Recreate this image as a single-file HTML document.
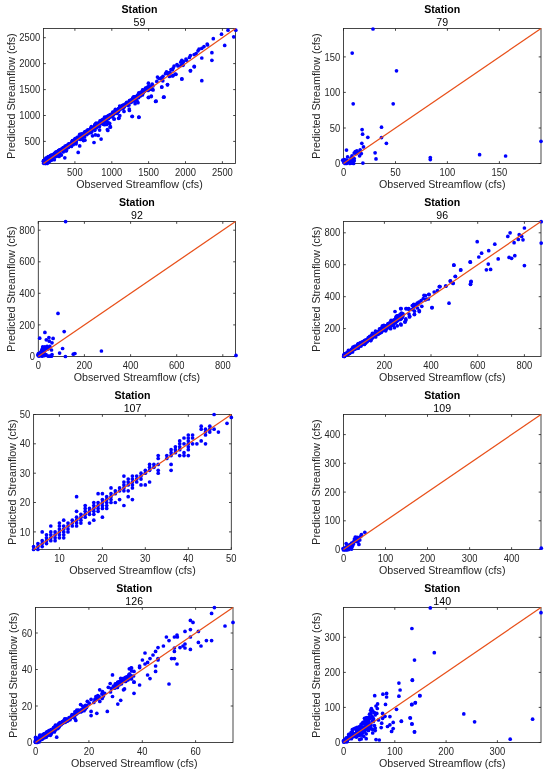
<!DOCTYPE html>
<html lang="en"><head><meta charset="utf-8"><title>Observed vs Predicted Streamflow</title>
<style>
html,body{margin:0;padding:0;background:#fff;}
svg{display:block;font-family:"Liberation Sans",Arial,Helvetica,sans-serif;}
.tk{font-size:10.0px;fill:#262626;}
.lb{font-size:10.7px;fill:#262626;}
.tt{font-size:10.6px;fill:#000;}
.tb{font-size:10.6px;fill:#000;font-weight:bold;}
.ax{stroke:#262626;stroke-width:0.85;fill:none;}
.ln{stroke:#E8501A;stroke-width:1.25;fill:none;}
.d circle{fill:#0000FF;}
</style></head><body>
<svg width="550" height="774" viewBox="0 0 550 774">
<rect x="0" y="0" width="550" height="774" fill="#ffffff"/>
<g>
<text class="tb" x="139.5" y="13.2" text-anchor="middle">Station</text>
<text class="tt" x="139.5" y="26" text-anchor="middle">59</text>
<rect class="ax" x="43.5" y="28.5" width="192" height="135"/>
<path class="ax" d="M74.9 163.5v-2.3M74.9 28.5v2.3M43.5 141.4h2.3M235.5 141.4h-2.3M111.8 163.5v-2.3M111.8 28.5v2.3M43.5 115.5h2.3M235.5 115.5h-2.3M148.6 163.5v-2.3M148.6 28.5v2.3M43.5 89.6h2.3M235.5 89.6h-2.3M185.5 163.5v-2.3M185.5 28.5v2.3M43.5 63.6h2.3M235.5 63.6h-2.3M222.4 163.5v-2.3M222.4 28.5v2.3M43.5 37.7h2.3M235.5 37.7h-2.3"/>
<g class="d">
<circle cx="56" cy="155.6" r="1.85"/><circle cx="44" cy="160.9" r="1.85"/><circle cx="129.5" cy="101.4" r="1.85"/><circle cx="43.6" cy="160.6" r="1.85"/><circle cx="126.8" cy="102.3" r="1.85"/><circle cx="87.8" cy="132.3" r="1.85"/>
<circle cx="117.2" cy="110.3" r="1.85"/><circle cx="104.7" cy="118.3" r="1.85"/><circle cx="148.1" cy="90.4" r="1.85"/><circle cx="47.4" cy="158.1" r="1.85"/><circle cx="100.9" cy="122.3" r="1.85"/><circle cx="44.7" cy="160.6" r="1.85"/>
<circle cx="115.4" cy="109.3" r="1.85"/><circle cx="58.4" cy="150.7" r="1.85"/><circle cx="46.8" cy="158.2" r="1.85"/><circle cx="101.9" cy="120.2" r="1.85"/><circle cx="47.7" cy="159" r="1.85"/><circle cx="73" cy="141.9" r="1.85"/>
<circle cx="119.6" cy="107.5" r="1.85"/><circle cx="56.2" cy="153.6" r="1.85"/><circle cx="85.6" cy="133.6" r="1.85"/><circle cx="63.2" cy="148.3" r="1.85"/><circle cx="107.5" cy="117.4" r="1.85"/><circle cx="100.6" cy="121.8" r="1.85"/>
<circle cx="95.9" cy="124.4" r="1.85"/><circle cx="106.1" cy="117.4" r="1.85"/><circle cx="129.8" cy="101.5" r="1.85"/><circle cx="50.2" cy="158.1" r="1.85"/><circle cx="89.8" cy="129.7" r="1.85"/><circle cx="86.8" cy="132.9" r="1.85"/>
<circle cx="76.5" cy="138.2" r="1.85"/><circle cx="87.1" cy="130.7" r="1.85"/><circle cx="119.8" cy="108.4" r="1.85"/><circle cx="138.7" cy="95.4" r="1.85"/><circle cx="68.3" cy="144.4" r="1.85"/><circle cx="92.9" cy="127.8" r="1.85"/>
<circle cx="124.1" cy="106.7" r="1.85"/><circle cx="44.7" cy="162" r="1.85"/><circle cx="74.6" cy="141.3" r="1.85"/><circle cx="141.7" cy="94.5" r="1.85"/><circle cx="87.4" cy="130.3" r="1.85"/><circle cx="124.2" cy="106.7" r="1.85"/>
<circle cx="45.6" cy="159.1" r="1.85"/><circle cx="139.7" cy="94.8" r="1.85"/><circle cx="51.4" cy="157.2" r="1.85"/><circle cx="96.6" cy="124.3" r="1.85"/><circle cx="128.1" cy="103.1" r="1.85"/><circle cx="110.2" cy="114.5" r="1.85"/>
<circle cx="69" cy="144.6" r="1.85"/><circle cx="44.8" cy="163.3" r="1.85"/><circle cx="149.5" cy="89.5" r="1.85"/><circle cx="58.7" cy="152" r="1.85"/><circle cx="65.6" cy="147.9" r="1.85"/><circle cx="116.2" cy="111.1" r="1.85"/>
<circle cx="126.4" cy="104" r="1.85"/><circle cx="44.2" cy="162.5" r="1.85"/><circle cx="49.5" cy="157.5" r="1.85"/><circle cx="50.4" cy="156.9" r="1.85"/><circle cx="47.6" cy="159.9" r="1.85"/><circle cx="105.6" cy="118.8" r="1.85"/>
<circle cx="96.3" cy="124.3" r="1.85"/><circle cx="115.6" cy="111.2" r="1.85"/><circle cx="57.4" cy="152" r="1.85"/><circle cx="112.7" cy="112.2" r="1.85"/><circle cx="93.1" cy="128.2" r="1.85"/><circle cx="82.9" cy="135.7" r="1.85"/>
<circle cx="43.6" cy="161.4" r="1.85"/><circle cx="54.4" cy="154.6" r="1.85"/><circle cx="76.5" cy="139.5" r="1.85"/><circle cx="74.1" cy="140.3" r="1.85"/><circle cx="119.7" cy="106" r="1.85"/><circle cx="129.8" cy="102" r="1.85"/>
<circle cx="115.4" cy="110.3" r="1.85"/><circle cx="102.2" cy="120.8" r="1.85"/><circle cx="133.8" cy="100.8" r="1.85"/><circle cx="59.2" cy="151.3" r="1.85"/><circle cx="43.7" cy="161.4" r="1.85"/><circle cx="67" cy="145.8" r="1.85"/>
<circle cx="47.8" cy="158.6" r="1.85"/><circle cx="51.4" cy="155.8" r="1.85"/><circle cx="134.8" cy="100.2" r="1.85"/><circle cx="141.2" cy="93.9" r="1.85"/><circle cx="57" cy="152.9" r="1.85"/><circle cx="51.2" cy="155.7" r="1.85"/>
<circle cx="59.5" cy="150.2" r="1.85"/><circle cx="57.9" cy="152.3" r="1.85"/><circle cx="95.9" cy="123.3" r="1.85"/><circle cx="130.5" cy="101.8" r="1.85"/><circle cx="48.5" cy="158.8" r="1.85"/><circle cx="102.1" cy="120.3" r="1.85"/>
<circle cx="66.9" cy="146.5" r="1.85"/><circle cx="129.6" cy="101" r="1.85"/><circle cx="137.2" cy="97.5" r="1.85"/><circle cx="45.1" cy="162.7" r="1.85"/><circle cx="52" cy="156.3" r="1.85"/><circle cx="46.6" cy="161.5" r="1.85"/>
<circle cx="90.9" cy="129.1" r="1.85"/><circle cx="130.6" cy="100.8" r="1.85"/><circle cx="84.5" cy="132.2" r="1.85"/><circle cx="77.5" cy="138.2" r="1.85"/><circle cx="80.5" cy="138.1" r="1.85"/><circle cx="122.3" cy="105.8" r="1.85"/>
<circle cx="111.4" cy="114.3" r="1.85"/><circle cx="131.2" cy="100.8" r="1.85"/><circle cx="81.6" cy="133.9" r="1.85"/><circle cx="65.9" cy="146.3" r="1.85"/><circle cx="80.9" cy="134.7" r="1.85"/><circle cx="44.1" cy="160.6" r="1.85"/>
<circle cx="43.7" cy="163.3" r="1.85"/><circle cx="118.7" cy="108.8" r="1.85"/><circle cx="130.1" cy="101.3" r="1.85"/><circle cx="74.7" cy="140.2" r="1.85"/><circle cx="75.1" cy="138.6" r="1.85"/><circle cx="88.1" cy="130.2" r="1.85"/>
<circle cx="137.1" cy="96.7" r="1.85"/><circle cx="75" cy="140.6" r="1.85"/><circle cx="102.3" cy="122" r="1.85"/><circle cx="67.6" cy="145.2" r="1.85"/><circle cx="50.8" cy="156.5" r="1.85"/><circle cx="72.3" cy="143.6" r="1.85"/>
<circle cx="79.7" cy="134.3" r="1.85"/><circle cx="138" cy="95.7" r="1.85"/><circle cx="47" cy="161.7" r="1.85"/><circle cx="72" cy="141.7" r="1.85"/><circle cx="143.3" cy="92.2" r="1.85"/><circle cx="86.3" cy="132.1" r="1.85"/>
<circle cx="132.1" cy="100.2" r="1.85"/><circle cx="69.6" cy="144.5" r="1.85"/><circle cx="99.8" cy="123.5" r="1.85"/><circle cx="55.9" cy="153.6" r="1.85"/><circle cx="58.7" cy="150.6" r="1.85"/><circle cx="137.3" cy="95.8" r="1.85"/>
<circle cx="121.6" cy="106.8" r="1.85"/><circle cx="138.1" cy="94.6" r="1.85"/><circle cx="84.6" cy="134.4" r="1.85"/><circle cx="141" cy="92" r="1.85"/><circle cx="54.3" cy="154.7" r="1.85"/><circle cx="147.7" cy="88.7" r="1.85"/>
<circle cx="46.2" cy="159.9" r="1.85"/><circle cx="100.4" cy="122.9" r="1.85"/><circle cx="55.1" cy="155.2" r="1.85"/><circle cx="54.3" cy="155.7" r="1.85"/><circle cx="45" cy="159.5" r="1.85"/><circle cx="53.4" cy="154.3" r="1.85"/>
<circle cx="61.3" cy="149.9" r="1.85"/><circle cx="59.3" cy="150.4" r="1.85"/><circle cx="59.2" cy="150.9" r="1.85"/><circle cx="63.2" cy="149.5" r="1.85"/><circle cx="135.3" cy="96.5" r="1.85"/><circle cx="52.2" cy="155.7" r="1.85"/>
<circle cx="81.3" cy="134.9" r="1.85"/><circle cx="93.8" cy="128.1" r="1.85"/><circle cx="134.8" cy="99.5" r="1.85"/><circle cx="58.7" cy="153.1" r="1.85"/><circle cx="122.2" cy="105.7" r="1.85"/><circle cx="119.1" cy="109.3" r="1.85"/>
<circle cx="146.7" cy="90.2" r="1.85"/><circle cx="43.6" cy="160.9" r="1.85"/><circle cx="72.4" cy="140.9" r="1.85"/><circle cx="140.2" cy="93.9" r="1.85"/><circle cx="69.7" cy="144.1" r="1.85"/><circle cx="80.2" cy="135.8" r="1.85"/>
<circle cx="50.1" cy="157.3" r="1.85"/><circle cx="90.3" cy="129.5" r="1.85"/><circle cx="96.9" cy="127.1" r="1.85"/><circle cx="71.8" cy="142.5" r="1.85"/><circle cx="92.5" cy="128" r="1.85"/><circle cx="84.3" cy="134" r="1.85"/>
<circle cx="142.9" cy="93" r="1.85"/><circle cx="47.7" cy="159.6" r="1.85"/><circle cx="57.9" cy="152.1" r="1.85"/><circle cx="120.1" cy="108.4" r="1.85"/><circle cx="45.9" cy="158" r="1.85"/><circle cx="82.2" cy="135" r="1.85"/>
<circle cx="152.4" cy="85" r="1.85"/><circle cx="57.3" cy="152.3" r="1.85"/><circle cx="116" cy="110.4" r="1.85"/><circle cx="152.9" cy="85.9" r="1.85"/><circle cx="142.4" cy="95" r="1.85"/><circle cx="50.1" cy="157.3" r="1.85"/>
<circle cx="61.8" cy="149.1" r="1.85"/><circle cx="117.8" cy="111.1" r="1.85"/><circle cx="114.8" cy="112.6" r="1.85"/><circle cx="83.4" cy="135" r="1.85"/><circle cx="72.6" cy="140.6" r="1.85"/><circle cx="56" cy="153.4" r="1.85"/>
<circle cx="76.3" cy="140" r="1.85"/><circle cx="131.1" cy="102.3" r="1.85"/><circle cx="46.3" cy="160.7" r="1.85"/><circle cx="94.4" cy="126.8" r="1.85"/><circle cx="69.3" cy="144.4" r="1.85"/><circle cx="52.4" cy="156.5" r="1.85"/>
<circle cx="103.3" cy="119.1" r="1.85"/><circle cx="56.1" cy="155.1" r="1.85"/><circle cx="132.6" cy="98.6" r="1.85"/><circle cx="138.6" cy="95.8" r="1.85"/><circle cx="134.4" cy="96.8" r="1.85"/><circle cx="50.3" cy="157.7" r="1.85"/>
<circle cx="58.6" cy="152.6" r="1.85"/><circle cx="140.8" cy="94.8" r="1.85"/><circle cx="143.1" cy="90.1" r="1.85"/><circle cx="84.8" cy="133.6" r="1.85"/><circle cx="108.4" cy="116.9" r="1.85"/><circle cx="129.9" cy="100.3" r="1.85"/>
<circle cx="81.1" cy="136.2" r="1.85"/><circle cx="63.1" cy="149.4" r="1.85"/><circle cx="67.3" cy="146.1" r="1.85"/><circle cx="147" cy="87.6" r="1.85"/><circle cx="56.2" cy="155" r="1.85"/><circle cx="81.8" cy="135" r="1.85"/>
<circle cx="55.8" cy="153.6" r="1.85"/><circle cx="58.2" cy="151.8" r="1.85"/><circle cx="47.2" cy="158.9" r="1.85"/><circle cx="105" cy="119.2" r="1.85"/><circle cx="115.6" cy="112.2" r="1.85"/><circle cx="127.2" cy="102.9" r="1.85"/>
<circle cx="54.7" cy="153.3" r="1.85"/><circle cx="75.7" cy="139.2" r="1.85"/><circle cx="100" cy="122.5" r="1.85"/><circle cx="94.8" cy="124.9" r="1.85"/><circle cx="48.2" cy="156.5" r="1.85"/><circle cx="59.5" cy="150.3" r="1.85"/>
<circle cx="119.9" cy="107.2" r="1.85"/><circle cx="68.6" cy="144.9" r="1.85"/><circle cx="109.4" cy="117.2" r="1.85"/><circle cx="50.9" cy="157.8" r="1.85"/><circle cx="46.5" cy="161.5" r="1.85"/><circle cx="66.5" cy="146.2" r="1.85"/>
<circle cx="71.1" cy="143.3" r="1.85"/><circle cx="141" cy="92.5" r="1.85"/><circle cx="126.6" cy="102.8" r="1.85"/><circle cx="94.3" cy="128.4" r="1.85"/><circle cx="139" cy="94.8" r="1.85"/><circle cx="60.5" cy="149.5" r="1.85"/>
<circle cx="54.3" cy="155.8" r="1.85"/><circle cx="63" cy="148" r="1.85"/><circle cx="114.8" cy="113.6" r="1.85"/><circle cx="119.3" cy="108.3" r="1.85"/><circle cx="102.6" cy="120" r="1.85"/><circle cx="136.1" cy="98.4" r="1.85"/>
<circle cx="94.9" cy="124.9" r="1.85"/><circle cx="123.2" cy="105.2" r="1.85"/><circle cx="90.8" cy="128" r="1.85"/><circle cx="133.8" cy="98.7" r="1.85"/><circle cx="48.4" cy="159.7" r="1.85"/><circle cx="100.1" cy="123.4" r="1.85"/>
<circle cx="136" cy="97.9" r="1.85"/><circle cx="45.2" cy="160" r="1.85"/><circle cx="130.8" cy="102" r="1.85"/><circle cx="117.5" cy="110.6" r="1.85"/><circle cx="51.6" cy="156.5" r="1.85"/><circle cx="46.1" cy="162" r="1.85"/>
<circle cx="95.1" cy="125" r="1.85"/><circle cx="136.1" cy="97.7" r="1.85"/><circle cx="133.4" cy="99.4" r="1.85"/><circle cx="105" cy="119" r="1.85"/><circle cx="106.2" cy="117.7" r="1.85"/><circle cx="63.7" cy="148.6" r="1.85"/>
<circle cx="70.2" cy="143.5" r="1.85"/><circle cx="67.1" cy="145.6" r="1.85"/><circle cx="146.9" cy="89.3" r="1.85"/><circle cx="105.9" cy="118.2" r="1.85"/><circle cx="95.2" cy="125.5" r="1.85"/><circle cx="142.9" cy="93" r="1.85"/>
<circle cx="98" cy="123.1" r="1.85"/><circle cx="61.6" cy="150.1" r="1.85"/><circle cx="118.4" cy="108.8" r="1.85"/><circle cx="133.5" cy="99.3" r="1.85"/><circle cx="56" cy="152.7" r="1.85"/><circle cx="106.2" cy="117.8" r="1.85"/>
<circle cx="149.1" cy="86.8" r="1.85"/><circle cx="144.5" cy="91" r="1.85"/><circle cx="100.7" cy="121.2" r="1.85"/><circle cx="63" cy="148" r="1.85"/><circle cx="65" cy="147.6" r="1.85"/><circle cx="134.3" cy="98.4" r="1.85"/>
<circle cx="85.3" cy="131.5" r="1.85"/><circle cx="65.1" cy="146.2" r="1.85"/><circle cx="85" cy="134.4" r="1.85"/><circle cx="88.7" cy="132.2" r="1.85"/><circle cx="133.6" cy="96.8" r="1.85"/><circle cx="55" cy="153.3" r="1.85"/>
<circle cx="147.4" cy="87.7" r="1.85"/><circle cx="74.7" cy="141.1" r="1.85"/><circle cx="101.6" cy="122.8" r="1.85"/><circle cx="60.1" cy="150.7" r="1.85"/><circle cx="119.1" cy="109.4" r="1.85"/><circle cx="68.9" cy="143.8" r="1.85"/>
<circle cx="87.8" cy="130.2" r="1.85"/><circle cx="67.1" cy="146.5" r="1.85"/><circle cx="148" cy="86.8" r="1.85"/><circle cx="45" cy="160.6" r="1.85"/><circle cx="84.8" cy="133.5" r="1.85"/><circle cx="63.9" cy="148.6" r="1.85"/>
<circle cx="94.7" cy="126" r="1.85"/><circle cx="52.7" cy="156.8" r="1.85"/><circle cx="63.4" cy="148.2" r="1.85"/><circle cx="91.4" cy="126.7" r="1.85"/><circle cx="91.7" cy="129" r="1.85"/><circle cx="48.6" cy="160" r="1.85"/>
<circle cx="77.7" cy="137" r="1.85"/><circle cx="151.5" cy="86.8" r="1.85"/><circle cx="103.9" cy="120.4" r="1.85"/><circle cx="145.9" cy="90.2" r="1.85"/><circle cx="101.3" cy="123" r="1.85"/><circle cx="44.3" cy="162.8" r="1.85"/>
<circle cx="58.4" cy="151.8" r="1.85"/><circle cx="54.5" cy="153.3" r="1.85"/><circle cx="144.7" cy="91" r="1.85"/><circle cx="140.3" cy="95.9" r="1.85"/><circle cx="52.9" cy="154.9" r="1.85"/><circle cx="48.3" cy="159.1" r="1.85"/>
<circle cx="110.7" cy="116.5" r="1.85"/><circle cx="55.7" cy="153.7" r="1.85"/><circle cx="110" cy="115.1" r="1.85"/><circle cx="100.8" cy="123.4" r="1.85"/><circle cx="100.4" cy="122.1" r="1.85"/><circle cx="73.2" cy="141.2" r="1.85"/>
<circle cx="118.7" cy="109.2" r="1.85"/><circle cx="61.8" cy="149.2" r="1.85"/><circle cx="64.8" cy="148.8" r="1.85"/><circle cx="68.1" cy="147.5" r="1.85"/><circle cx="104.6" cy="117.1" r="1.85"/><circle cx="144.6" cy="90.4" r="1.85"/>
<circle cx="73" cy="141.8" r="1.85"/><circle cx="70.3" cy="143.5" r="1.85"/><circle cx="63.6" cy="147.6" r="1.85"/><circle cx="70.1" cy="144.5" r="1.85"/><circle cx="97.2" cy="126" r="1.85"/><circle cx="81" cy="135.6" r="1.85"/>
<circle cx="146.1" cy="89.9" r="1.85"/><circle cx="138.6" cy="97.6" r="1.85"/><circle cx="140.6" cy="93.9" r="1.85"/><circle cx="96.2" cy="123.4" r="1.85"/><circle cx="123.8" cy="105.8" r="1.85"/><circle cx="52.5" cy="155.6" r="1.85"/>
<circle cx="44.8" cy="162.1" r="1.85"/><circle cx="117.5" cy="110.2" r="1.85"/><circle cx="54.3" cy="154.8" r="1.85"/><circle cx="108" cy="117.6" r="1.85"/><circle cx="129.4" cy="100.8" r="1.85"/><circle cx="45.5" cy="162.2" r="1.85"/>
<circle cx="75.8" cy="140.7" r="1.85"/><circle cx="90" cy="130.2" r="1.85"/><circle cx="84.1" cy="133" r="1.85"/><circle cx="132.9" cy="97.9" r="1.85"/><circle cx="50.7" cy="155.6" r="1.85"/><circle cx="81.4" cy="135.8" r="1.85"/>
<circle cx="62.1" cy="150.4" r="1.85"/><circle cx="91.3" cy="127.8" r="1.85"/><circle cx="69.5" cy="145.9" r="1.85"/><circle cx="56.1" cy="151.8" r="1.85"/><circle cx="130.2" cy="101.5" r="1.85"/><circle cx="107" cy="116.7" r="1.85"/>
<circle cx="125.1" cy="104.1" r="1.85"/><circle cx="91.4" cy="129.5" r="1.85"/><circle cx="43.8" cy="161.4" r="1.85"/><circle cx="135" cy="98.5" r="1.85"/><circle cx="100" cy="120.9" r="1.85"/><circle cx="50.5" cy="155.7" r="1.85"/>
<circle cx="51.6" cy="155" r="1.85"/><circle cx="120.5" cy="107.5" r="1.85"/><circle cx="126.8" cy="104.1" r="1.85"/><circle cx="94.9" cy="126.9" r="1.85"/><circle cx="138.7" cy="96.1" r="1.85"/><circle cx="74.7" cy="139.9" r="1.85"/>
<circle cx="123.7" cy="105.3" r="1.85"/><circle cx="113.9" cy="112.1" r="1.85"/><circle cx="106.7" cy="117.1" r="1.85"/><circle cx="74.2" cy="140.3" r="1.85"/><circle cx="136.6" cy="97.6" r="1.85"/><circle cx="49.1" cy="159" r="1.85"/>
<circle cx="47.1" cy="160.4" r="1.85"/><circle cx="63.3" cy="149.5" r="1.85"/><circle cx="80.3" cy="135.4" r="1.85"/><circle cx="45.2" cy="162.4" r="1.85"/><circle cx="107.7" cy="118.5" r="1.85"/><circle cx="73.4" cy="141" r="1.85"/>
<circle cx="132.2" cy="100.9" r="1.85"/><circle cx="133.4" cy="98.7" r="1.85"/><circle cx="43.5" cy="161.8" r="1.85"/><circle cx="121.9" cy="107.6" r="1.85"/><circle cx="79.9" cy="136.6" r="1.85"/><circle cx="138.6" cy="94.7" r="1.85"/>
<circle cx="131.4" cy="99.9" r="1.85"/><circle cx="45.7" cy="162" r="1.85"/><circle cx="44.8" cy="161.7" r="1.85"/><circle cx="97.1" cy="123.9" r="1.85"/><circle cx="45.5" cy="160.6" r="1.85"/><circle cx="108.3" cy="115.6" r="1.85"/>
<circle cx="162.4" cy="78.3" r="1.85"/><circle cx="180.8" cy="65.5" r="1.85"/><circle cx="161.3" cy="78.9" r="1.85"/><circle cx="170.1" cy="72.9" r="1.85"/><circle cx="168.5" cy="74.3" r="1.85"/><circle cx="172.4" cy="69.8" r="1.85"/>
<circle cx="162.8" cy="80.8" r="1.85"/><circle cx="182.8" cy="63.9" r="1.85"/><circle cx="183" cy="65.3" r="1.85"/><circle cx="156.8" cy="81.4" r="1.85"/><circle cx="104.9" cy="121.1" r="1.85"/><circle cx="66" cy="147.3" r="1.85"/>
<circle cx="54" cy="157.2" r="1.85"/><circle cx="51.3" cy="159.8" r="1.85"/><circle cx="99.4" cy="126.6" r="1.85"/><circle cx="118.7" cy="110.4" r="1.85"/><circle cx="111.9" cy="116.6" r="1.85"/><circle cx="88.5" cy="132" r="1.85"/>
<circle cx="117.2" cy="113.5" r="1.85"/><circle cx="53" cy="158.3" r="1.85"/><circle cx="45.5" cy="163.3" r="1.85"/><circle cx="45.6" cy="163.3" r="1.85"/><circle cx="81.9" cy="138.9" r="1.85"/><circle cx="117.4" cy="111.8" r="1.85"/>
<circle cx="96.2" cy="127.9" r="1.85"/><circle cx="94.8" cy="130.3" r="1.85"/><circle cx="63" cy="149.4" r="1.85"/><circle cx="51.1" cy="159" r="1.85"/><circle cx="112.2" cy="116.5" r="1.85"/><circle cx="89.3" cy="131.9" r="1.85"/>
<circle cx="47.1" cy="163.3" r="1.85"/><circle cx="75.7" cy="142.3" r="1.85"/><circle cx="82" cy="137.3" r="1.85"/><circle cx="115.6" cy="112.5" r="1.85"/><circle cx="67.7" cy="145.9" r="1.85"/><circle cx="98.4" cy="125.8" r="1.85"/>
<circle cx="113" cy="115.2" r="1.85"/><circle cx="80.6" cy="139.4" r="1.85"/><circle cx="52.7" cy="159.1" r="1.85"/><circle cx="103.8" cy="119.6" r="1.85"/><circle cx="106.7" cy="121" r="1.85"/><circle cx="73.1" cy="144.7" r="1.85"/>
<circle cx="71.4" cy="146.5" r="1.85"/><circle cx="123.2" cy="107.4" r="1.85"/><circle cx="56.1" cy="156.4" r="1.85"/><circle cx="90.7" cy="132.6" r="1.85"/><circle cx="61.4" cy="155.1" r="1.85"/><circle cx="73.4" cy="144" r="1.85"/>
<circle cx="52.3" cy="159.5" r="1.85"/><circle cx="46.1" cy="161.5" r="1.85"/><circle cx="51.1" cy="160.2" r="1.85"/><circle cx="118.5" cy="111.5" r="1.85"/><circle cx="71.3" cy="144" r="1.85"/><circle cx="112.9" cy="114.9" r="1.85"/>
<circle cx="59.6" cy="154.1" r="1.85"/><circle cx="84.4" cy="133.2" r="1.85"/><circle cx="87.7" cy="133.2" r="1.85"/><circle cx="63.3" cy="150.2" r="1.85"/><circle cx="90.9" cy="131.9" r="1.85"/><circle cx="76.2" cy="141.8" r="1.85"/>
<circle cx="58.3" cy="154.1" r="1.85"/><circle cx="72.7" cy="143.9" r="1.85"/><circle cx="76.1" cy="143.8" r="1.85"/><circle cx="81.4" cy="138.4" r="1.85"/><circle cx="65.3" cy="149.1" r="1.85"/><circle cx="88.7" cy="133.1" r="1.85"/>
<circle cx="129" cy="105" r="1.85"/><circle cx="91.7" cy="131.9" r="1.85"/><circle cx="127.8" cy="105.4" r="1.85"/><circle cx="91.6" cy="131" r="1.85"/><circle cx="104.5" cy="124.7" r="1.85"/><circle cx="58" cy="151.9" r="1.85"/>
<circle cx="72.5" cy="143.4" r="1.85"/><circle cx="48.6" cy="161.1" r="1.85"/><circle cx="111.5" cy="116" r="1.85"/><circle cx="58.2" cy="154.2" r="1.85"/><circle cx="75.1" cy="143.1" r="1.85"/><circle cx="84.6" cy="137" r="1.85"/>
<circle cx="58.8" cy="155.6" r="1.85"/><circle cx="56.2" cy="155.6" r="1.85"/><circle cx="65.9" cy="150.8" r="1.85"/><circle cx="121" cy="109" r="1.85"/><circle cx="86.9" cy="134.6" r="1.85"/><circle cx="68.4" cy="147.3" r="1.85"/>
<circle cx="103" cy="124.2" r="1.85"/><circle cx="52.4" cy="159.3" r="1.85"/><circle cx="105.1" cy="121.7" r="1.85"/><circle cx="57.7" cy="155.7" r="1.85"/><circle cx="81.7" cy="138.2" r="1.85"/><circle cx="108.5" cy="118.6" r="1.85"/>
<circle cx="53.7" cy="158.1" r="1.85"/><circle cx="79.2" cy="139.1" r="1.85"/><circle cx="66.6" cy="150.1" r="1.85"/><circle cx="47.1" cy="163.3" r="1.85"/><circle cx="49.8" cy="161.1" r="1.85"/><circle cx="70.3" cy="145.9" r="1.85"/>
<circle cx="57.7" cy="154.5" r="1.85"/><circle cx="123" cy="108.5" r="1.85"/><circle cx="105.5" cy="119.9" r="1.85"/><circle cx="80.6" cy="138.8" r="1.85"/><circle cx="48.7" cy="162.5" r="1.85"/><circle cx="58.9" cy="153.2" r="1.85"/>
<circle cx="80.1" cy="138.8" r="1.85"/><circle cx="52" cy="158.2" r="1.85"/><circle cx="63.2" cy="152" r="1.85"/><circle cx="66.2" cy="150.7" r="1.85"/><circle cx="60" cy="153.5" r="1.85"/><circle cx="106.7" cy="118.5" r="1.85"/>
<circle cx="110" cy="116.6" r="1.85"/><circle cx="105.2" cy="119.9" r="1.85"/><circle cx="138.9" cy="117.3" r="1.85"/><circle cx="132.2" cy="116.3" r="1.85"/><circle cx="114.1" cy="119" r="1.85"/><circle cx="118.7" cy="118.3" r="1.85"/>
<circle cx="124" cy="111.4" r="1.85"/><circle cx="129.3" cy="109.1" r="1.85"/><circle cx="106.8" cy="124.4" r="1.85"/><circle cx="109.7" cy="123.4" r="1.85"/><circle cx="110.3" cy="127.2" r="1.85"/><circle cx="107.8" cy="130.5" r="1.85"/>
<circle cx="99.6" cy="130.1" r="1.85"/><circle cx="92.5" cy="135.8" r="1.85"/><circle cx="95.4" cy="134.9" r="1.85"/><circle cx="98.2" cy="135.4" r="1.85"/><circle cx="101.1" cy="139.1" r="1.85"/><circle cx="94" cy="142.5" r="1.85"/>
<circle cx="83.5" cy="140.6" r="1.85"/><circle cx="84.9" cy="140.2" r="1.85"/><circle cx="79.7" cy="145.9" r="1.85"/><circle cx="78.2" cy="152.4" r="1.85"/><circle cx="64.8" cy="157.8" r="1.85"/><circle cx="59.1" cy="156.4" r="1.85"/>
<circle cx="54.3" cy="159.7" r="1.85"/><circle cx="235.8" cy="30.2" r="1.85"/><circle cx="228" cy="30.2" r="1.85"/><circle cx="233.7" cy="36.8" r="1.85"/><circle cx="221.5" cy="34.2" r="1.85"/><circle cx="224.7" cy="45.4" r="1.85"/>
<circle cx="213.3" cy="38.7" r="1.85"/><circle cx="207.2" cy="44.1" r="1.85"/><circle cx="207.6" cy="45" r="1.85"/><circle cx="211.9" cy="52.7" r="1.85"/><circle cx="211.9" cy="60.3" r="1.85"/><circle cx="201.8" cy="48.3" r="1.85"/>
<circle cx="199" cy="49.2" r="1.85"/><circle cx="201.8" cy="58" r="1.85"/><circle cx="201.8" cy="80.7" r="1.85"/><circle cx="194.2" cy="66.4" r="1.85"/><circle cx="190.4" cy="70.8" r="1.85"/><circle cx="196.1" cy="53.6" r="1.85"/>
<circle cx="194.2" cy="54.6" r="1.85"/><circle cx="190.4" cy="55.5" r="1.85"/><circle cx="189.4" cy="57.5" r="1.85"/><circle cx="186.5" cy="60.3" r="1.85"/><circle cx="181.8" cy="60.3" r="1.85"/><circle cx="180.8" cy="62.2" r="1.85"/>
<circle cx="181.8" cy="79" r="1.85"/><circle cx="176" cy="74.3" r="1.85"/><circle cx="173.2" cy="75.6" r="1.85"/><circle cx="169.4" cy="76.5" r="1.85"/><circle cx="167.5" cy="84.8" r="1.85"/><circle cx="161.7" cy="87" r="1.85"/>
<circle cx="163.6" cy="97.2" r="1.85"/><circle cx="153.1" cy="89.9" r="1.85"/><circle cx="151.2" cy="96.6" r="1.85"/><circle cx="148.4" cy="97.5" r="1.85"/><circle cx="155.6" cy="101.4" r="1.85"/><circle cx="157.5" cy="77.1" r="1.85"/>
<circle cx="161.7" cy="77.5" r="1.85"/><circle cx="166.5" cy="71.8" r="1.85"/><circle cx="165.5" cy="73.7" r="1.85"/><circle cx="169.4" cy="72.7" r="1.85"/><circle cx="174.1" cy="66" r="1.85"/><circle cx="173.2" cy="68" r="1.85"/>
<circle cx="178" cy="66" r="1.85"/><circle cx="148.4" cy="83.2" r="1.85"/><circle cx="149.3" cy="86.1" r="1.85"/><circle cx="152.2" cy="84.2" r="1.85"/><circle cx="145.5" cy="88" r="1.85"/><circle cx="142.6" cy="89.9" r="1.85"/>
<circle cx="138.8" cy="92.8" r="1.85"/><circle cx="194.3" cy="66.8" r="1.85"/><circle cx="190.5" cy="70.7" r="1.85"/><circle cx="181.9" cy="78.9" r="1.85"/><circle cx="175.2" cy="74.1" r="1.85"/><circle cx="172.3" cy="76" r="1.85"/>
<circle cx="167.5" cy="84.6" r="1.85"/><circle cx="161.8" cy="87.1" r="1.85"/><circle cx="164.1" cy="97" r="1.85"/><circle cx="156.1" cy="101.2" r="1.85"/><circle cx="151.3" cy="96" r="1.85"/><circle cx="148.5" cy="97.4" r="1.85"/>
<circle cx="152.3" cy="89.4" r="1.85"/><circle cx="138.9" cy="117" r="1.85"/><circle cx="132.2" cy="116.5" r="1.85"/><circle cx="137" cy="100.8" r="1.85"/><circle cx="138" cy="102.7" r="1.85"/><circle cx="135.1" cy="103.7" r="1.85"/>
<circle cx="129.4" cy="110.4" r="1.85"/><circle cx="119.8" cy="115.7" r="1.85"/><circle cx="118.9" cy="118" r="1.85"/><circle cx="114.1" cy="119" r="1.85"/><circle cx="108.4" cy="122.8" r="1.85"/><circle cx="110.3" cy="126.6" r="1.85"/>
<circle cx="107.4" cy="129.5" r="1.85"/><circle cx="204" cy="46.6" r="1.85"/><circle cx="198" cy="50.8" r="1.85"/><circle cx="186" cy="59" r="1.85"/><circle cx="183.5" cy="61.5" r="1.85"/><circle cx="177" cy="64.5" r="1.85"/>
<circle cx="171" cy="69.5" r="1.85"/><circle cx="163" cy="76.3" r="1.85"/><circle cx="159" cy="78.5" r="1.85"/>
</g>
<path class="ln" d="M43.5 163.5L235.5 28.5"/>
<text class="tk" transform="translate(74.9 175.9) scale(0.94 1)" text-anchor="middle">500</text>
<text class="tk" transform="translate(40.2 145) scale(0.94 1)" text-anchor="end">500</text>
<text class="tk" transform="translate(111.8 175.9) scale(0.94 1)" text-anchor="middle">1000</text>
<text class="tk" transform="translate(40.2 119.1) scale(0.94 1)" text-anchor="end">1000</text>
<text class="tk" transform="translate(148.6 175.9) scale(0.94 1)" text-anchor="middle">1500</text>
<text class="tk" transform="translate(40.2 93.2) scale(0.94 1)" text-anchor="end">1500</text>
<text class="tk" transform="translate(185.5 175.9) scale(0.94 1)" text-anchor="middle">2000</text>
<text class="tk" transform="translate(40.2 67.2) scale(0.94 1)" text-anchor="end">2000</text>
<text class="tk" transform="translate(222.4 175.9) scale(0.94 1)" text-anchor="middle">2500</text>
<text class="tk" transform="translate(40.2 41.3) scale(0.94 1)" text-anchor="end">2500</text>
<text class="lb" x="139.5" y="188.3" text-anchor="middle">Observed Streamflow (cfs)</text>
<text class="lb" transform="translate(14.8 96) rotate(-90)" text-anchor="middle">Predicted Streamflow (cfs)</text>
</g>
<g>
<text class="tb" x="442.2" y="13.2" text-anchor="middle">Station</text>
<text class="tt" x="442.2" y="26" text-anchor="middle">79</text>
<rect class="ax" x="343.5" y="28.5" width="197.5" height="135"/>
<path class="ax" d="M343.5 163.5v-2.3M343.5 28.5v2.3M343.5 163.5h2.3M541 163.5h-2.3M395.5 163.5v-2.3M395.5 28.5v2.3M343.5 128h2.3M541 128h-2.3M447.4 163.5v-2.3M447.4 28.5v2.3M343.5 92.4h2.3M541 92.4h-2.3M499.4 163.5v-2.3M499.4 28.5v2.3M343.5 56.9h2.3M541 56.9h-2.3"/>
<g class="d">
<circle cx="381.5" cy="127.2" r="1.85"/><circle cx="381.5" cy="137.6" r="1.85"/><circle cx="386.4" cy="143.3" r="1.85"/><circle cx="375.1" cy="152.8" r="1.85"/><circle cx="376" cy="158.9" r="1.85"/><circle cx="367.8" cy="137.3" r="1.85"/>
<circle cx="362.1" cy="129.6" r="1.85"/><circle cx="362.6" cy="134.2" r="1.85"/><circle cx="361.8" cy="143.3" r="1.85"/><circle cx="363.5" cy="146.9" r="1.85"/><circle cx="362.9" cy="163.1" r="1.85"/><circle cx="346.5" cy="150.1" r="1.85"/>
<circle cx="355.3" cy="151.5" r="1.85"/><circle cx="356.9" cy="150.9" r="1.85"/><circle cx="360.2" cy="149.8" r="1.85"/><circle cx="358.5" cy="152" r="1.85"/><circle cx="361.3" cy="153.6" r="1.85"/><circle cx="359.6" cy="155.8" r="1.85"/>
<circle cx="354.2" cy="153.1" r="1.85"/><circle cx="352" cy="155.8" r="1.85"/><circle cx="347.6" cy="156.9" r="1.85"/><circle cx="350.9" cy="158" r="1.85"/><circle cx="354.2" cy="158.5" r="1.85"/><circle cx="354.2" cy="160.7" r="1.85"/>
<circle cx="352" cy="161.3" r="1.85"/><circle cx="349.8" cy="160.7" r="1.85"/><circle cx="346.5" cy="160.2" r="1.85"/><circle cx="344.4" cy="159.6" r="1.85"/><circle cx="342.7" cy="160.2" r="1.85"/><circle cx="343.8" cy="162.4" r="1.85"/>
<circle cx="346.5" cy="163.5" r="1.85"/><circle cx="349.8" cy="163.5" r="1.85"/><circle cx="353.6" cy="163.5" r="1.85"/><circle cx="348.2" cy="161.8" r="1.85"/><circle cx="356.4" cy="153.6" r="1.85"/><circle cx="353.1" cy="159.6" r="1.85"/>
<circle cx="345.5" cy="161.3" r="1.85"/><circle cx="350.9" cy="162.4" r="1.85"/><circle cx="344.9" cy="163.5" r="1.85"/><circle cx="352" cy="163.2" r="1.85"/><circle cx="373" cy="29" r="1.85"/><circle cx="352.2" cy="53.1" r="1.85"/>
<circle cx="396.5" cy="70.8" r="1.85"/><circle cx="353.2" cy="103.8" r="1.85"/><circle cx="393.2" cy="103.8" r="1.85"/><circle cx="430.3" cy="157.6" r="1.85"/><circle cx="430.3" cy="159.6" r="1.85"/><circle cx="479.6" cy="154.7" r="1.85"/>
<circle cx="505.6" cy="156" r="1.85"/><circle cx="541" cy="141.3" r="1.85"/>
</g>
<path class="ln" d="M343.5 163.5L541 28.5"/>
<text class="tk" transform="translate(343.5 175.9) scale(0.94 1)" text-anchor="middle">0</text>
<text class="tk" transform="translate(340.2 167.1) scale(0.94 1)" text-anchor="end">0</text>
<text class="tk" transform="translate(395.5 175.9) scale(0.94 1)" text-anchor="middle">50</text>
<text class="tk" transform="translate(340.2 131.6) scale(0.94 1)" text-anchor="end">50</text>
<text class="tk" transform="translate(447.4 175.9) scale(0.94 1)" text-anchor="middle">100</text>
<text class="tk" transform="translate(340.2 96) scale(0.94 1)" text-anchor="end">100</text>
<text class="tk" transform="translate(499.4 175.9) scale(0.94 1)" text-anchor="middle">150</text>
<text class="tk" transform="translate(340.2 60.5) scale(0.94 1)" text-anchor="end">150</text>
<text class="lb" x="442.2" y="188.3" text-anchor="middle">Observed Streamflow (cfs)</text>
<text class="lb" transform="translate(320 96) rotate(-90)" text-anchor="middle">Predicted Streamflow (cfs)</text>
</g>
<g>
<text class="tb" x="136.9" y="206.2" text-anchor="middle">Station</text>
<text class="tt" x="136.9" y="219" text-anchor="middle">92</text>
<rect class="ax" x="38.3" y="221.5" width="197.2" height="135"/>
<path class="ax" d="M38.3 356.5v-2.3M38.3 221.5v2.3M38.3 356.5h2.3M235.5 356.5h-2.3M84.4 356.5v-2.3M84.4 221.5v2.3M38.3 324.9h2.3M235.5 324.9h-2.3M130.6 356.5v-2.3M130.6 221.5v2.3M38.3 293.3h2.3M235.5 293.3h-2.3M176.7 356.5v-2.3M176.7 221.5v2.3M38.3 261.8h2.3M235.5 261.8h-2.3M222.8 356.5v-2.3M222.8 221.5v2.3M38.3 230.2h2.3M235.5 230.2h-2.3"/>
<g class="d">
<circle cx="58" cy="313.4" r="1.85"/><circle cx="44.9" cy="332.4" r="1.85"/><circle cx="64.2" cy="331.6" r="1.85"/><circle cx="39.7" cy="338.2" r="1.85"/><circle cx="48.9" cy="337.6" r="1.85"/><circle cx="53.1" cy="338.4" r="1.85"/>
<circle cx="46.3" cy="339.8" r="1.85"/><circle cx="49.3" cy="341.2" r="1.85"/><circle cx="52" cy="342.8" r="1.85"/><circle cx="42.7" cy="346.9" r="1.85"/><circle cx="44.9" cy="346.9" r="1.85"/><circle cx="47.1" cy="346.4" r="1.85"/>
<circle cx="49.8" cy="346.4" r="1.85"/><circle cx="42.2" cy="349.1" r="1.85"/><circle cx="44.9" cy="349.1" r="1.85"/><circle cx="47.6" cy="349.1" r="1.85"/><circle cx="51.5" cy="350" r="1.85"/><circle cx="41.6" cy="350.7" r="1.85"/>
<circle cx="44.4" cy="351.3" r="1.85"/><circle cx="40.5" cy="352.4" r="1.85"/><circle cx="43.3" cy="353.5" r="1.85"/><circle cx="39.5" cy="354" r="1.85"/><circle cx="37.8" cy="355.1" r="1.85"/><circle cx="40.5" cy="355.6" r="1.85"/>
<circle cx="44.4" cy="355.6" r="1.85"/><circle cx="48.2" cy="356.2" r="1.85"/><circle cx="52" cy="354.5" r="1.85"/><circle cx="51.5" cy="356.2" r="1.85"/><circle cx="62.6" cy="348.5" r="1.85"/><circle cx="59.6" cy="353.1" r="1.85"/>
<circle cx="65.4" cy="356.5" r="1.85"/><circle cx="73.3" cy="354.2" r="1.85"/><circle cx="74.9" cy="353.5" r="1.85"/><circle cx="38.9" cy="356.2" r="1.85"/><circle cx="42.2" cy="356.2" r="1.85"/><circle cx="46" cy="354.5" r="1.85"/>
<circle cx="49.8" cy="356.2" r="1.85"/><circle cx="38.4" cy="353.5" r="1.85"/><circle cx="46" cy="348" r="1.85"/><circle cx="48.7" cy="348" r="1.85"/><circle cx="43.8" cy="348" r="1.85"/><circle cx="101.4" cy="351" r="1.85"/>
<circle cx="65.6" cy="221.6" r="1.85"/><circle cx="236" cy="355.4" r="1.85"/>
</g>
<path class="ln" d="M38.3 356.5L235.5 221.5"/>
<text class="tk" transform="translate(38.3 368.9) scale(0.94 1)" text-anchor="middle">0</text>
<text class="tk" transform="translate(35 360.1) scale(0.94 1)" text-anchor="end">0</text>
<text class="tk" transform="translate(84.4 368.9) scale(0.94 1)" text-anchor="middle">200</text>
<text class="tk" transform="translate(35 328.5) scale(0.94 1)" text-anchor="end">200</text>
<text class="tk" transform="translate(130.6 368.9) scale(0.94 1)" text-anchor="middle">400</text>
<text class="tk" transform="translate(35 296.9) scale(0.94 1)" text-anchor="end">400</text>
<text class="tk" transform="translate(176.7 368.9) scale(0.94 1)" text-anchor="middle">600</text>
<text class="tk" transform="translate(35 265.4) scale(0.94 1)" text-anchor="end">600</text>
<text class="tk" transform="translate(222.8 368.9) scale(0.94 1)" text-anchor="middle">800</text>
<text class="tk" transform="translate(35 233.8) scale(0.94 1)" text-anchor="end">800</text>
<text class="lb" x="136.9" y="381.3" text-anchor="middle">Observed Streamflow (cfs)</text>
<text class="lb" transform="translate(14.6 289) rotate(-90)" text-anchor="middle">Predicted Streamflow (cfs)</text>
</g>
<g>
<text class="tb" x="442.2" y="206.2" text-anchor="middle">Station</text>
<text class="tt" x="442.2" y="219" text-anchor="middle">96</text>
<rect class="ax" x="343.5" y="221.5" width="197.5" height="135"/>
<path class="ax" d="M384.4 356.5v-2.3M384.4 221.5v2.3M343.5 328.6h2.3M541 328.6h-2.3M431 356.5v-2.3M431 221.5v2.3M343.5 296.7h2.3M541 296.7h-2.3M477.7 356.5v-2.3M477.7 221.5v2.3M343.5 264.7h2.3M541 264.7h-2.3M524.4 356.5v-2.3M524.4 221.5v2.3M343.5 232.8h2.3M541 232.8h-2.3"/>
<g class="d">
<circle cx="362.4" cy="344.1" r="1.85"/><circle cx="353.1" cy="349" r="1.85"/><circle cx="390.5" cy="324.1" r="1.85"/><circle cx="344.2" cy="354.3" r="1.85"/><circle cx="364.6" cy="341.3" r="1.85"/><circle cx="360.6" cy="345.2" r="1.85"/>
<circle cx="357" cy="346.7" r="1.85"/><circle cx="375" cy="334.6" r="1.85"/><circle cx="401.5" cy="314.9" r="1.85"/><circle cx="382.1" cy="329.9" r="1.85"/><circle cx="361" cy="346.1" r="1.85"/><circle cx="389.3" cy="323" r="1.85"/>
<circle cx="371" cy="337.8" r="1.85"/><circle cx="366.4" cy="340.5" r="1.85"/><circle cx="391.1" cy="320.3" r="1.85"/><circle cx="375.7" cy="336.9" r="1.85"/><circle cx="348.4" cy="350.4" r="1.85"/><circle cx="358.5" cy="344.9" r="1.85"/>
<circle cx="391.4" cy="322.6" r="1.85"/><circle cx="389.4" cy="323.7" r="1.85"/><circle cx="352.5" cy="348.4" r="1.85"/><circle cx="345.3" cy="355.4" r="1.85"/><circle cx="393.8" cy="320.2" r="1.85"/><circle cx="379.3" cy="333.3" r="1.85"/>
<circle cx="401.4" cy="314" r="1.85"/><circle cx="375.6" cy="335.4" r="1.85"/><circle cx="353" cy="347" r="1.85"/><circle cx="396.8" cy="320.7" r="1.85"/><circle cx="353.9" cy="348.2" r="1.85"/><circle cx="354.2" cy="348.4" r="1.85"/>
<circle cx="351.4" cy="349.7" r="1.85"/><circle cx="351.1" cy="351.4" r="1.85"/><circle cx="401.5" cy="318.5" r="1.85"/><circle cx="380.1" cy="331.1" r="1.85"/><circle cx="386.9" cy="327.2" r="1.85"/><circle cx="361" cy="342.5" r="1.85"/>
<circle cx="385.1" cy="328.8" r="1.85"/><circle cx="353.6" cy="349.5" r="1.85"/><circle cx="351.7" cy="351.2" r="1.85"/><circle cx="387.5" cy="327" r="1.85"/><circle cx="381.2" cy="332.3" r="1.85"/><circle cx="358" cy="347.1" r="1.85"/>
<circle cx="402.3" cy="316.2" r="1.85"/><circle cx="366.8" cy="341.8" r="1.85"/><circle cx="358.7" cy="346.3" r="1.85"/><circle cx="391.3" cy="321.2" r="1.85"/><circle cx="345.1" cy="353.6" r="1.85"/><circle cx="398.2" cy="318.7" r="1.85"/>
<circle cx="360.5" cy="345" r="1.85"/><circle cx="365.5" cy="341.6" r="1.85"/><circle cx="381.3" cy="329.8" r="1.85"/><circle cx="369.6" cy="339.8" r="1.85"/><circle cx="372.8" cy="334.9" r="1.85"/><circle cx="347" cy="352.7" r="1.85"/>
<circle cx="350" cy="351.7" r="1.85"/><circle cx="356.4" cy="348.6" r="1.85"/><circle cx="357.9" cy="345.8" r="1.85"/><circle cx="387" cy="327.1" r="1.85"/><circle cx="396.9" cy="318" r="1.85"/><circle cx="348.9" cy="353" r="1.85"/>
<circle cx="370.8" cy="340.6" r="1.85"/><circle cx="401.5" cy="313" r="1.85"/><circle cx="367.4" cy="340.6" r="1.85"/><circle cx="389.9" cy="325.7" r="1.85"/><circle cx="351.5" cy="350.5" r="1.85"/><circle cx="360.2" cy="344.1" r="1.85"/>
<circle cx="369.9" cy="337.7" r="1.85"/><circle cx="349.4" cy="353.4" r="1.85"/><circle cx="371.6" cy="335.6" r="1.85"/><circle cx="377.5" cy="332.1" r="1.85"/><circle cx="372.2" cy="338.2" r="1.85"/><circle cx="357.9" cy="347" r="1.85"/>
<circle cx="396.6" cy="318.6" r="1.85"/><circle cx="353.6" cy="348.9" r="1.85"/><circle cx="350.4" cy="351.3" r="1.85"/><circle cx="358.5" cy="347" r="1.85"/><circle cx="349.9" cy="351" r="1.85"/><circle cx="357.4" cy="347.3" r="1.85"/>
<circle cx="362.9" cy="343.2" r="1.85"/><circle cx="354.6" cy="346.3" r="1.85"/><circle cx="398.7" cy="318.9" r="1.85"/><circle cx="345.7" cy="353.9" r="1.85"/><circle cx="343.8" cy="356.3" r="1.85"/><circle cx="351.4" cy="351.5" r="1.85"/>
<circle cx="369.7" cy="338.5" r="1.85"/><circle cx="361.1" cy="343.7" r="1.85"/><circle cx="400.8" cy="318.1" r="1.85"/><circle cx="394" cy="320.1" r="1.85"/><circle cx="359.6" cy="344.2" r="1.85"/><circle cx="395.3" cy="322.9" r="1.85"/>
<circle cx="371.3" cy="337.3" r="1.85"/><circle cx="379.6" cy="330.3" r="1.85"/><circle cx="358.6" cy="343.8" r="1.85"/><circle cx="383.9" cy="329.9" r="1.85"/><circle cx="373.7" cy="334.1" r="1.85"/><circle cx="356.9" cy="346.4" r="1.85"/>
<circle cx="385.7" cy="325.9" r="1.85"/><circle cx="369.6" cy="338.7" r="1.85"/><circle cx="357.4" cy="347.2" r="1.85"/><circle cx="362.9" cy="343.4" r="1.85"/><circle cx="380.2" cy="332.8" r="1.85"/><circle cx="382.7" cy="328.6" r="1.85"/>
<circle cx="359.8" cy="343.1" r="1.85"/><circle cx="365.3" cy="340" r="1.85"/><circle cx="365.5" cy="343.2" r="1.85"/><circle cx="361.9" cy="342.8" r="1.85"/><circle cx="350.6" cy="351.7" r="1.85"/><circle cx="358.3" cy="347.7" r="1.85"/>
<circle cx="388.4" cy="323.6" r="1.85"/><circle cx="381.5" cy="332" r="1.85"/><circle cx="375" cy="333.9" r="1.85"/><circle cx="389.5" cy="325.6" r="1.85"/><circle cx="349.4" cy="352.1" r="1.85"/><circle cx="375.2" cy="334.9" r="1.85"/>
<circle cx="380" cy="331.2" r="1.85"/><circle cx="373.5" cy="336.2" r="1.85"/><circle cx="387.1" cy="327.5" r="1.85"/><circle cx="396.4" cy="321.4" r="1.85"/><circle cx="344" cy="355.6" r="1.85"/><circle cx="360.9" cy="344.9" r="1.85"/>
<circle cx="391.1" cy="325.4" r="1.85"/><circle cx="383.7" cy="330.3" r="1.85"/><circle cx="347.8" cy="354" r="1.85"/><circle cx="397.3" cy="319.7" r="1.85"/><circle cx="366.1" cy="340.4" r="1.85"/><circle cx="348.1" cy="353.9" r="1.85"/>
<circle cx="384.9" cy="326.6" r="1.85"/><circle cx="397.5" cy="319.2" r="1.85"/><circle cx="396.5" cy="319.1" r="1.85"/><circle cx="344.8" cy="354.7" r="1.85"/><circle cx="357" cy="347.5" r="1.85"/><circle cx="348.5" cy="352.7" r="1.85"/>
<circle cx="371.7" cy="336" r="1.85"/><circle cx="361.2" cy="342.6" r="1.85"/><circle cx="392.2" cy="324.9" r="1.85"/><circle cx="369.7" cy="338.5" r="1.85"/><circle cx="379.5" cy="328.9" r="1.85"/><circle cx="370.3" cy="338.4" r="1.85"/>
<circle cx="368.3" cy="337.7" r="1.85"/><circle cx="355.5" cy="347.5" r="1.85"/><circle cx="344.6" cy="355.6" r="1.85"/><circle cx="374.2" cy="334.8" r="1.85"/><circle cx="347.8" cy="352.5" r="1.85"/><circle cx="383.2" cy="327.4" r="1.85"/>
<circle cx="356.2" cy="347.7" r="1.85"/><circle cx="353.5" cy="349" r="1.85"/><circle cx="385.7" cy="328.4" r="1.85"/><circle cx="386.2" cy="325.8" r="1.85"/><circle cx="384.1" cy="329" r="1.85"/><circle cx="365.5" cy="340.8" r="1.85"/>
<circle cx="378.9" cy="332.3" r="1.85"/><circle cx="378" cy="331.6" r="1.85"/><circle cx="369.8" cy="336.4" r="1.85"/><circle cx="387.9" cy="323.8" r="1.85"/><circle cx="361.4" cy="344.2" r="1.85"/><circle cx="379.4" cy="331.2" r="1.85"/>
<circle cx="373.4" cy="335" r="1.85"/><circle cx="349.2" cy="352.8" r="1.85"/><circle cx="356.6" cy="347.5" r="1.85"/><circle cx="393.4" cy="323.6" r="1.85"/><circle cx="400.8" cy="318.4" r="1.85"/><circle cx="389.1" cy="325.3" r="1.85"/>
<circle cx="379" cy="332.8" r="1.85"/><circle cx="368.7" cy="340.1" r="1.85"/><circle cx="372.4" cy="333.4" r="1.85"/><circle cx="345.6" cy="354.6" r="1.85"/><circle cx="396.2" cy="320" r="1.85"/><circle cx="354.3" cy="347.9" r="1.85"/>
<circle cx="373.2" cy="336.3" r="1.85"/><circle cx="357.8" cy="346.4" r="1.85"/><circle cx="380.2" cy="330.7" r="1.85"/><circle cx="401.8" cy="313.9" r="1.85"/><circle cx="359.8" cy="344" r="1.85"/><circle cx="371" cy="337.9" r="1.85"/>
<circle cx="394" cy="323" r="1.85"/><circle cx="354.2" cy="349.5" r="1.85"/><circle cx="381.7" cy="329.6" r="1.85"/><circle cx="358.2" cy="345.9" r="1.85"/><circle cx="363.7" cy="341.4" r="1.85"/><circle cx="388.7" cy="326.3" r="1.85"/>
<circle cx="396.2" cy="320.8" r="1.85"/><circle cx="345.9" cy="353.6" r="1.85"/><circle cx="367.8" cy="340.4" r="1.85"/><circle cx="358.3" cy="344.2" r="1.85"/><circle cx="352" cy="350.3" r="1.85"/><circle cx="347.5" cy="353.9" r="1.85"/>
<circle cx="376" cy="333" r="1.85"/><circle cx="383.4" cy="326.7" r="1.85"/><circle cx="365.7" cy="340.3" r="1.85"/><circle cx="355.4" cy="346.6" r="1.85"/><circle cx="373.7" cy="334.3" r="1.85"/><circle cx="373.9" cy="333.9" r="1.85"/>
<circle cx="381" cy="328.6" r="1.85"/><circle cx="344" cy="355.7" r="1.85"/><circle cx="343.9" cy="355.8" r="1.85"/><circle cx="356.5" cy="347.7" r="1.85"/><circle cx="393.1" cy="321.9" r="1.85"/><circle cx="357.4" cy="347.3" r="1.85"/>
<circle cx="370.8" cy="336.7" r="1.85"/><circle cx="390.2" cy="324.7" r="1.85"/><circle cx="375.2" cy="335.3" r="1.85"/><circle cx="358.6" cy="344.8" r="1.85"/><circle cx="373.2" cy="333.9" r="1.85"/><circle cx="345.5" cy="355.4" r="1.85"/>
<circle cx="393.4" cy="325.4" r="1.85"/><circle cx="344.5" cy="355.8" r="1.85"/><circle cx="363.4" cy="342.4" r="1.85"/><circle cx="397.5" cy="316" r="1.85"/><circle cx="377.8" cy="334.2" r="1.85"/><circle cx="344.1" cy="355.1" r="1.85"/>
<circle cx="385.8" cy="329.2" r="1.85"/><circle cx="350" cy="352.2" r="1.85"/><circle cx="383.9" cy="328.6" r="1.85"/><circle cx="362.3" cy="343.8" r="1.85"/><circle cx="349.3" cy="353" r="1.85"/><circle cx="398.1" cy="316.4" r="1.85"/>
<circle cx="367.3" cy="340.3" r="1.85"/><circle cx="379.8" cy="329.8" r="1.85"/><circle cx="371.3" cy="338.8" r="1.85"/><circle cx="385.7" cy="330.8" r="1.85"/><circle cx="396.1" cy="317.8" r="1.85"/><circle cx="396.5" cy="319" r="1.85"/>
<circle cx="359.9" cy="343.8" r="1.85"/><circle cx="367.2" cy="341.5" r="1.85"/><circle cx="379.9" cy="330.3" r="1.85"/><circle cx="363.5" cy="341.5" r="1.85"/><circle cx="365" cy="340.8" r="1.85"/><circle cx="372.1" cy="335.1" r="1.85"/>
<circle cx="344.4" cy="356.3" r="1.85"/><circle cx="365.3" cy="341.5" r="1.85"/><circle cx="344.1" cy="355.8" r="1.85"/><circle cx="382.6" cy="329.9" r="1.85"/><circle cx="370.9" cy="337.6" r="1.85"/><circle cx="357.4" cy="346.9" r="1.85"/>
<circle cx="381" cy="330.3" r="1.85"/><circle cx="363.6" cy="343.9" r="1.85"/><circle cx="367.9" cy="339.6" r="1.85"/><circle cx="391.2" cy="323.1" r="1.85"/><circle cx="357.8" cy="344.1" r="1.85"/><circle cx="359.3" cy="345.3" r="1.85"/>
<circle cx="362.3" cy="343" r="1.85"/><circle cx="388.6" cy="326.1" r="1.85"/><circle cx="354.4" cy="349.2" r="1.85"/><circle cx="375.8" cy="333.5" r="1.85"/><circle cx="367.6" cy="339.8" r="1.85"/><circle cx="369.2" cy="337.8" r="1.85"/>
<circle cx="353.3" cy="349.6" r="1.85"/><circle cx="376.3" cy="334.4" r="1.85"/><circle cx="361.2" cy="343" r="1.85"/><circle cx="377.3" cy="332.1" r="1.85"/><circle cx="372.3" cy="336.6" r="1.85"/><circle cx="389.5" cy="328" r="1.85"/>
<circle cx="347.7" cy="353.5" r="1.85"/><circle cx="395.9" cy="321.8" r="1.85"/><circle cx="345.6" cy="354.4" r="1.85"/><circle cx="364.5" cy="341.7" r="1.85"/><circle cx="390.1" cy="326.4" r="1.85"/><circle cx="349.6" cy="352.5" r="1.85"/>
<circle cx="359.2" cy="343.9" r="1.85"/><circle cx="352.6" cy="351.9" r="1.85"/><circle cx="375.3" cy="334.8" r="1.85"/><circle cx="361.3" cy="343.5" r="1.85"/><circle cx="384.4" cy="327.8" r="1.85"/><circle cx="380.9" cy="331.3" r="1.85"/>
<circle cx="347.8" cy="354.3" r="1.85"/><circle cx="400.5" cy="318.2" r="1.85"/><circle cx="370.4" cy="336.8" r="1.85"/><circle cx="385.9" cy="329.6" r="1.85"/><circle cx="396.7" cy="321.3" r="1.85"/><circle cx="362.2" cy="344" r="1.85"/>
<circle cx="361.7" cy="344.1" r="1.85"/><circle cx="351.5" cy="349.3" r="1.85"/><circle cx="350.9" cy="351.4" r="1.85"/><circle cx="402.4" cy="315.6" r="1.85"/><circle cx="384.8" cy="329.8" r="1.85"/><circle cx="375.6" cy="334" r="1.85"/>
<circle cx="363.7" cy="341.7" r="1.85"/><circle cx="382.4" cy="325.8" r="1.85"/><circle cx="358" cy="345.1" r="1.85"/><circle cx="388.5" cy="325.4" r="1.85"/><circle cx="363.8" cy="342.8" r="1.85"/><circle cx="361.2" cy="344.2" r="1.85"/>
<circle cx="343.9" cy="355.9" r="1.85"/><circle cx="384.6" cy="326.7" r="1.85"/><circle cx="388.7" cy="324.2" r="1.85"/><circle cx="349.8" cy="350.8" r="1.85"/><circle cx="398.9" cy="319.6" r="1.85"/><circle cx="357.9" cy="347" r="1.85"/>
<circle cx="369.3" cy="337.4" r="1.85"/><circle cx="372.6" cy="337" r="1.85"/><circle cx="369" cy="337.7" r="1.85"/><circle cx="348.6" cy="351.9" r="1.85"/><circle cx="375.5" cy="331.2" r="1.85"/><circle cx="373.9" cy="336.5" r="1.85"/>
<circle cx="373.8" cy="336.4" r="1.85"/><circle cx="364.2" cy="341.1" r="1.85"/><circle cx="378" cy="332.7" r="1.85"/><circle cx="386.9" cy="327.1" r="1.85"/><circle cx="350.9" cy="350.4" r="1.85"/><circle cx="351.8" cy="350.8" r="1.85"/>
<circle cx="356.9" cy="347.7" r="1.85"/><circle cx="388.5" cy="325" r="1.85"/><circle cx="363.3" cy="342.2" r="1.85"/><circle cx="383.9" cy="325.4" r="1.85"/><circle cx="346.7" cy="354.4" r="1.85"/><circle cx="385.6" cy="327.7" r="1.85"/>
<circle cx="350.4" cy="350.9" r="1.85"/><circle cx="386.6" cy="328.2" r="1.85"/><circle cx="386.2" cy="326.6" r="1.85"/><circle cx="343.7" cy="356" r="1.85"/><circle cx="354.4" cy="347.4" r="1.85"/><circle cx="371.3" cy="336.4" r="1.85"/>
<circle cx="397.2" cy="315.9" r="1.85"/><circle cx="391.2" cy="324.2" r="1.85"/><circle cx="356.4" cy="347" r="1.85"/><circle cx="358.2" cy="348.2" r="1.85"/><circle cx="363.8" cy="341.7" r="1.85"/><circle cx="363.4" cy="343.2" r="1.85"/>
<circle cx="383" cy="328" r="1.85"/><circle cx="400.2" cy="319.4" r="1.85"/><circle cx="354.7" cy="347.6" r="1.85"/><circle cx="382.3" cy="330.6" r="1.85"/><circle cx="345.5" cy="354.6" r="1.85"/><circle cx="384.8" cy="328.1" r="1.85"/>
<circle cx="350.8" cy="351.5" r="1.85"/><circle cx="354.9" cy="348.1" r="1.85"/><circle cx="389.1" cy="323.6" r="1.85"/><circle cx="354.3" cy="348.3" r="1.85"/><circle cx="382" cy="327.8" r="1.85"/><circle cx="360.2" cy="344" r="1.85"/>
<circle cx="385.1" cy="327.8" r="1.85"/><circle cx="371.3" cy="337.8" r="1.85"/><circle cx="351.3" cy="350.1" r="1.85"/><circle cx="382.5" cy="328.7" r="1.85"/><circle cx="369.7" cy="337.2" r="1.85"/><circle cx="362.4" cy="341.8" r="1.85"/>
<circle cx="395.6" cy="319.2" r="1.85"/><circle cx="378.9" cy="332.3" r="1.85"/><circle cx="381.8" cy="327.8" r="1.85"/><circle cx="374.5" cy="335.3" r="1.85"/><circle cx="387.8" cy="327.2" r="1.85"/><circle cx="370.7" cy="336.6" r="1.85"/>
<circle cx="346.4" cy="354.4" r="1.85"/><circle cx="396.3" cy="317.5" r="1.85"/><circle cx="357.7" cy="347.6" r="1.85"/><circle cx="345.3" cy="354.3" r="1.85"/><circle cx="400.7" cy="316.3" r="1.85"/><circle cx="350.9" cy="351.7" r="1.85"/>
<circle cx="396.4" cy="317.2" r="1.85"/><circle cx="353.2" cy="349.4" r="1.85"/><circle cx="402.6" cy="314" r="1.85"/><circle cx="400.8" cy="314.7" r="1.85"/><circle cx="393.4" cy="324.1" r="1.85"/><circle cx="388.6" cy="324.6" r="1.85"/>
<circle cx="385.8" cy="327.3" r="1.85"/><circle cx="392.8" cy="323.4" r="1.85"/><circle cx="385.9" cy="328.1" r="1.85"/><circle cx="402.4" cy="317.1" r="1.85"/><circle cx="346.6" cy="354.3" r="1.85"/><circle cx="378" cy="334.3" r="1.85"/>
<circle cx="380.6" cy="330" r="1.85"/><circle cx="397.5" cy="320.4" r="1.85"/><circle cx="370.7" cy="340.5" r="1.85"/><circle cx="355.5" cy="347" r="1.85"/><circle cx="402.2" cy="316.8" r="1.85"/><circle cx="368.3" cy="338.2" r="1.85"/>
<circle cx="359.5" cy="345.9" r="1.85"/><circle cx="351.8" cy="350.3" r="1.85"/><circle cx="350.7" cy="352.4" r="1.85"/><circle cx="398.2" cy="316.4" r="1.85"/><circle cx="374.4" cy="334.6" r="1.85"/><circle cx="356.1" cy="346.1" r="1.85"/>
<circle cx="364.4" cy="344.4" r="1.85"/><circle cx="346.1" cy="354.1" r="1.85"/><circle cx="350" cy="352.7" r="1.85"/><circle cx="390.8" cy="324.1" r="1.85"/><circle cx="344.3" cy="356.3" r="1.85"/><circle cx="399.5" cy="316.8" r="1.85"/>
<circle cx="368.7" cy="339.6" r="1.85"/><circle cx="401.4" cy="318.6" r="1.85"/><circle cx="413.5" cy="308" r="1.85"/><circle cx="402.8" cy="315.7" r="1.85"/><circle cx="425.4" cy="299.8" r="1.85"/><circle cx="418.1" cy="304.3" r="1.85"/>
<circle cx="411.9" cy="309.5" r="1.85"/><circle cx="412.3" cy="305.5" r="1.85"/><circle cx="426.5" cy="299.1" r="1.85"/><circle cx="416" cy="304.6" r="1.85"/><circle cx="432" cy="307.7" r="1.85"/><circle cx="439.3" cy="286.7" r="1.85"/>
<circle cx="428.8" cy="294.3" r="1.85"/><circle cx="424" cy="295.3" r="1.85"/><circle cx="419.2" cy="310.5" r="1.85"/><circle cx="414.5" cy="314.4" r="1.85"/><circle cx="409.7" cy="316.3" r="1.85"/><circle cx="405.9" cy="320.1" r="1.85"/>
<circle cx="404.9" cy="322" r="1.85"/><circle cx="401.1" cy="308.6" r="1.85"/><circle cx="405.9" cy="308.6" r="1.85"/><circle cx="408.7" cy="308.6" r="1.85"/><circle cx="413.5" cy="304.8" r="1.85"/><circle cx="395" cy="311.5" r="1.85"/>
<circle cx="396.3" cy="316.3" r="1.85"/><circle cx="400.1" cy="314.4" r="1.85"/><circle cx="401.1" cy="324.9" r="1.85"/><circle cx="397.3" cy="325.8" r="1.85"/><circle cx="394.4" cy="327.7" r="1.85"/><circle cx="390.6" cy="328.7" r="1.85"/>
<circle cx="541.2" cy="221.7" r="1.85"/><circle cx="541.2" cy="243.1" r="1.85"/><circle cx="524.4" cy="228" r="1.85"/><circle cx="524.4" cy="265.6" r="1.85"/><circle cx="510.1" cy="232.8" r="1.85"/><circle cx="507.8" cy="236.4" r="1.85"/>
<circle cx="519.2" cy="234.7" r="1.85"/><circle cx="521.7" cy="236.4" r="1.85"/><circle cx="518.3" cy="239.4" r="1.85"/><circle cx="523" cy="239.8" r="1.85"/><circle cx="514.1" cy="242.7" r="1.85"/><circle cx="514.8" cy="255.7" r="1.85"/>
<circle cx="511.6" cy="258.3" r="1.85"/><circle cx="509.1" cy="257.4" r="1.85"/><circle cx="494.8" cy="244.2" r="1.85"/><circle cx="477.2" cy="241.7" r="1.85"/><circle cx="488.7" cy="250.7" r="1.85"/><circle cx="481.6" cy="253.2" r="1.85"/>
<circle cx="478.8" cy="257" r="1.85"/><circle cx="498.2" cy="258.9" r="1.85"/><circle cx="488.3" cy="264.1" r="1.85"/><circle cx="486.4" cy="269.8" r="1.85"/><circle cx="490.6" cy="269.4" r="1.85"/><circle cx="470.2" cy="261.8" r="1.85"/>
<circle cx="453.9" cy="265.2" r="1.85"/><circle cx="460.6" cy="270" r="1.85"/><circle cx="455.3" cy="276.5" r="1.85"/><circle cx="450.5" cy="280.9" r="1.85"/><circle cx="453" cy="283.3" r="1.85"/><circle cx="471.1" cy="281.4" r="1.85"/>
<circle cx="470.5" cy="284.1" r="1.85"/><circle cx="445.7" cy="286" r="1.85"/><circle cx="440" cy="286.6" r="1.85"/><circle cx="470.3" cy="262.2" r="1.85"/><circle cx="453.8" cy="265.1" r="1.85"/><circle cx="460.8" cy="269.9" r="1.85"/>
<circle cx="455.3" cy="276.3" r="1.85"/><circle cx="450.2" cy="281.1" r="1.85"/><circle cx="453.1" cy="283.3" r="1.85"/><circle cx="471" cy="281.8" r="1.85"/><circle cx="470.5" cy="284.3" r="1.85"/><circle cx="445.8" cy="286.2" r="1.85"/>
<circle cx="439.6" cy="286.5" r="1.85"/><circle cx="437.5" cy="290.5" r="1.85"/><circle cx="434.2" cy="292" r="1.85"/><circle cx="429.1" cy="294.6" r="1.85"/><circle cx="425.5" cy="295.6" r="1.85"/><circle cx="428.4" cy="299" r="1.85"/>
<circle cx="423.3" cy="298.5" r="1.85"/><circle cx="421.1" cy="300.7" r="1.85"/><circle cx="418.9" cy="302.2" r="1.85"/><circle cx="417.2" cy="303.2" r="1.85"/><circle cx="413.8" cy="304.4" r="1.85"/><circle cx="413.8" cy="306.3" r="1.85"/>
<circle cx="421.8" cy="306.3" r="1.85"/><circle cx="417.5" cy="308" r="1.85"/><circle cx="449" cy="303.2" r="1.85"/><circle cx="432" cy="307.6" r="1.85"/><circle cx="419.3" cy="311.6" r="1.85"/><circle cx="414.5" cy="311.2" r="1.85"/>
<circle cx="414.3" cy="314.5" r="1.85"/><circle cx="406.5" cy="308.7" r="1.85"/><circle cx="408.7" cy="309.2" r="1.85"/><circle cx="400.7" cy="308.7" r="1.85"/><circle cx="409" cy="314.1" r="1.85"/><circle cx="409.5" cy="317" r="1.85"/>
<circle cx="402.9" cy="313.8" r="1.85"/><circle cx="400.7" cy="315.3" r="1.85"/><circle cx="405.8" cy="318.9" r="1.85"/><circle cx="405.1" cy="321.8" r="1.85"/><circle cx="400.7" cy="324" r="1.85"/>
</g>
<path class="ln" d="M343.5 356.5L541 221.5"/>
<text class="tk" transform="translate(384.4 368.9) scale(0.94 1)" text-anchor="middle">200</text>
<text class="tk" transform="translate(340.2 332.2) scale(0.94 1)" text-anchor="end">200</text>
<text class="tk" transform="translate(431 368.9) scale(0.94 1)" text-anchor="middle">400</text>
<text class="tk" transform="translate(340.2 300.3) scale(0.94 1)" text-anchor="end">400</text>
<text class="tk" transform="translate(477.7 368.9) scale(0.94 1)" text-anchor="middle">600</text>
<text class="tk" transform="translate(340.2 268.3) scale(0.94 1)" text-anchor="end">600</text>
<text class="tk" transform="translate(524.4 368.9) scale(0.94 1)" text-anchor="middle">800</text>
<text class="tk" transform="translate(340.2 236.4) scale(0.94 1)" text-anchor="end">800</text>
<text class="lb" x="442.2" y="381.3" text-anchor="middle">Observed Streamflow (cfs)</text>
<text class="lb" transform="translate(320 289) rotate(-90)" text-anchor="middle">Predicted Streamflow (cfs)</text>
</g>
<g>
<text class="tb" x="132.5" y="399.2" text-anchor="middle">Station</text>
<text class="tt" x="132.5" y="412" text-anchor="middle">107</text>
<rect class="ax" x="33.6" y="414.5" width="197.7" height="135"/>
<path class="ax" d="M59.4 549.5v-2.3M59.4 414.5v2.3M33.6 531.9h2.3M231.3 531.9h-2.3M102.4 549.5v-2.3M102.4 414.5v2.3M33.6 502.5h2.3M231.3 502.5h-2.3M145.3 549.5v-2.3M145.3 414.5v2.3M33.6 473.2h2.3M231.3 473.2h-2.3M188.3 549.5v-2.3M188.3 414.5v2.3M33.6 443.8h2.3M231.3 443.8h-2.3M231.3 549.5v-2.3M231.3 414.5v2.3M33.6 414.5h2.3M231.3 414.5h-2.3"/>
<g class="d">
<circle cx="33.6" cy="549.5" r="1.85"/><circle cx="33.6" cy="546.6" r="1.85"/><circle cx="37.9" cy="549.5" r="1.85"/><circle cx="37.9" cy="546.6" r="1.85"/><circle cx="37.9" cy="543.6" r="1.85"/><circle cx="42.2" cy="546.6" r="1.85"/>
<circle cx="42.2" cy="543.6" r="1.85"/><circle cx="42.2" cy="540.7" r="1.85"/><circle cx="42.2" cy="531.9" r="1.85"/><circle cx="46.5" cy="543.6" r="1.85"/><circle cx="46.5" cy="540.7" r="1.85"/><circle cx="46.5" cy="537.8" r="1.85"/>
<circle cx="46.5" cy="534.8" r="1.85"/><circle cx="50.8" cy="540.7" r="1.85"/><circle cx="50.8" cy="537.8" r="1.85"/><circle cx="50.8" cy="534.8" r="1.85"/><circle cx="50.8" cy="531.9" r="1.85"/><circle cx="50.8" cy="526" r="1.85"/>
<circle cx="55.1" cy="540.7" r="1.85"/><circle cx="55.1" cy="537.8" r="1.85"/><circle cx="55.1" cy="534.8" r="1.85"/><circle cx="55.1" cy="531.9" r="1.85"/><circle cx="59.4" cy="537.8" r="1.85"/><circle cx="59.4" cy="534.8" r="1.85"/>
<circle cx="59.4" cy="531.9" r="1.85"/><circle cx="59.4" cy="529" r="1.85"/><circle cx="59.4" cy="526" r="1.85"/><circle cx="59.4" cy="523.1" r="1.85"/><circle cx="63.7" cy="537.8" r="1.85"/><circle cx="63.7" cy="534.8" r="1.85"/>
<circle cx="63.7" cy="531.9" r="1.85"/><circle cx="63.7" cy="529" r="1.85"/><circle cx="63.7" cy="526" r="1.85"/><circle cx="63.7" cy="520.2" r="1.85"/><circle cx="68" cy="531.9" r="1.85"/><circle cx="68" cy="529" r="1.85"/>
<circle cx="68" cy="526" r="1.85"/><circle cx="68" cy="523.1" r="1.85"/><circle cx="72.3" cy="526" r="1.85"/><circle cx="72.3" cy="523.1" r="1.85"/><circle cx="72.3" cy="520.2" r="1.85"/><circle cx="76.6" cy="526" r="1.85"/>
<circle cx="76.6" cy="523.1" r="1.85"/><circle cx="76.6" cy="520.2" r="1.85"/><circle cx="76.6" cy="517.2" r="1.85"/><circle cx="76.6" cy="511.3" r="1.85"/><circle cx="76.6" cy="496.7" r="1.85"/><circle cx="80.9" cy="523.1" r="1.85"/>
<circle cx="80.9" cy="520.2" r="1.85"/><circle cx="80.9" cy="517.2" r="1.85"/><circle cx="80.9" cy="514.3" r="1.85"/><circle cx="85.2" cy="517.2" r="1.85"/><circle cx="85.2" cy="514.3" r="1.85"/><circle cx="85.2" cy="511.3" r="1.85"/>
<circle cx="85.2" cy="508.4" r="1.85"/><circle cx="85.2" cy="505.5" r="1.85"/><circle cx="89.5" cy="523.1" r="1.85"/><circle cx="89.5" cy="514.3" r="1.85"/><circle cx="89.5" cy="511.3" r="1.85"/><circle cx="89.5" cy="508.4" r="1.85"/>
<circle cx="93.8" cy="520.2" r="1.85"/><circle cx="93.8" cy="514.3" r="1.85"/><circle cx="93.8" cy="511.3" r="1.85"/><circle cx="93.8" cy="508.4" r="1.85"/><circle cx="93.8" cy="505.5" r="1.85"/><circle cx="93.8" cy="502.5" r="1.85"/>
<circle cx="98.1" cy="511.3" r="1.85"/><circle cx="98.1" cy="508.4" r="1.85"/><circle cx="98.1" cy="505.5" r="1.85"/><circle cx="98.1" cy="502.5" r="1.85"/><circle cx="98.1" cy="493.7" r="1.85"/><circle cx="102.4" cy="517.2" r="1.85"/>
<circle cx="102.4" cy="508.4" r="1.85"/><circle cx="102.4" cy="505.5" r="1.85"/><circle cx="102.4" cy="502.5" r="1.85"/><circle cx="102.4" cy="499.6" r="1.85"/><circle cx="102.4" cy="493.7" r="1.85"/><circle cx="106.7" cy="508.4" r="1.85"/>
<circle cx="106.7" cy="505.5" r="1.85"/><circle cx="106.7" cy="502.5" r="1.85"/><circle cx="106.7" cy="499.6" r="1.85"/><circle cx="106.7" cy="496.7" r="1.85"/><circle cx="111" cy="502.5" r="1.85"/><circle cx="111" cy="499.6" r="1.85"/>
<circle cx="111" cy="496.7" r="1.85"/><circle cx="111" cy="493.7" r="1.85"/><circle cx="111" cy="487.9" r="1.85"/><circle cx="115.3" cy="502.5" r="1.85"/><circle cx="115.3" cy="493.7" r="1.85"/><circle cx="115.3" cy="490.8" r="1.85"/>
<circle cx="119.6" cy="499.6" r="1.85"/><circle cx="119.6" cy="490.8" r="1.85"/><circle cx="119.6" cy="487.9" r="1.85"/><circle cx="123.9" cy="505.5" r="1.85"/><circle cx="123.9" cy="490.8" r="1.85"/><circle cx="123.9" cy="487.9" r="1.85"/>
<circle cx="123.9" cy="484.9" r="1.85"/><circle cx="123.9" cy="482" r="1.85"/><circle cx="123.9" cy="476.1" r="1.85"/><circle cx="128.2" cy="496.7" r="1.85"/><circle cx="128.2" cy="490.8" r="1.85"/><circle cx="128.2" cy="484.9" r="1.85"/>
<circle cx="128.2" cy="482" r="1.85"/><circle cx="128.2" cy="479.1" r="1.85"/><circle cx="132.4" cy="499.6" r="1.85"/><circle cx="132.4" cy="487.9" r="1.85"/><circle cx="132.4" cy="484.9" r="1.85"/><circle cx="132.4" cy="482" r="1.85"/>
<circle cx="132.4" cy="479.1" r="1.85"/><circle cx="132.4" cy="476.1" r="1.85"/><circle cx="136.7" cy="482" r="1.85"/><circle cx="136.7" cy="479.1" r="1.85"/><circle cx="136.7" cy="476.1" r="1.85"/><circle cx="141" cy="484.9" r="1.85"/>
<circle cx="141" cy="479.1" r="1.85"/><circle cx="141" cy="476.1" r="1.85"/><circle cx="141" cy="473.2" r="1.85"/><circle cx="145.3" cy="484.9" r="1.85"/><circle cx="145.3" cy="473.2" r="1.85"/><circle cx="145.3" cy="470.3" r="1.85"/>
<circle cx="149.6" cy="482" r="1.85"/><circle cx="149.6" cy="470.3" r="1.85"/><circle cx="149.6" cy="467.3" r="1.85"/><circle cx="149.6" cy="464.4" r="1.85"/><circle cx="153.9" cy="467.3" r="1.85"/><circle cx="153.9" cy="464.4" r="1.85"/>
<circle cx="158.2" cy="473.2" r="1.85"/><circle cx="158.2" cy="470.3" r="1.85"/><circle cx="158.2" cy="464.4" r="1.85"/><circle cx="158.2" cy="458.5" r="1.85"/><circle cx="158.2" cy="455.6" r="1.85"/><circle cx="166.8" cy="458.5" r="1.85"/>
<circle cx="166.8" cy="455.6" r="1.85"/><circle cx="171.1" cy="470.3" r="1.85"/><circle cx="171.1" cy="464.4" r="1.85"/><circle cx="171.1" cy="455.6" r="1.85"/><circle cx="171.1" cy="452.7" r="1.85"/><circle cx="171.1" cy="449.7" r="1.85"/>
<circle cx="175.4" cy="452.7" r="1.85"/><circle cx="175.4" cy="449.7" r="1.85"/><circle cx="175.4" cy="446.8" r="1.85"/><circle cx="179.7" cy="455.6" r="1.85"/><circle cx="179.7" cy="449.7" r="1.85"/><circle cx="179.7" cy="446.8" r="1.85"/>
<circle cx="179.7" cy="443.8" r="1.85"/><circle cx="179.7" cy="440.9" r="1.85"/><circle cx="184" cy="455.6" r="1.85"/><circle cx="184" cy="452.7" r="1.85"/><circle cx="184" cy="443.8" r="1.85"/><circle cx="184" cy="438" r="1.85"/>
<circle cx="188.3" cy="455.6" r="1.85"/><circle cx="188.3" cy="449.7" r="1.85"/><circle cx="188.3" cy="446.8" r="1.85"/><circle cx="188.3" cy="443.8" r="1.85"/><circle cx="188.3" cy="440.9" r="1.85"/><circle cx="188.3" cy="438" r="1.85"/>
<circle cx="188.3" cy="435" r="1.85"/><circle cx="192.6" cy="443.8" r="1.85"/><circle cx="192.6" cy="438" r="1.85"/><circle cx="192.6" cy="435" r="1.85"/><circle cx="196.9" cy="443.8" r="1.85"/><circle cx="201.2" cy="440.9" r="1.85"/>
<circle cx="201.2" cy="429.2" r="1.85"/><circle cx="201.2" cy="426.2" r="1.85"/><circle cx="205.5" cy="443.8" r="1.85"/><circle cx="205.5" cy="435" r="1.85"/><circle cx="205.5" cy="432.1" r="1.85"/><circle cx="205.5" cy="429.2" r="1.85"/>
<circle cx="209.8" cy="432.1" r="1.85"/><circle cx="209.8" cy="429.2" r="1.85"/><circle cx="209.8" cy="426.2" r="1.85"/><circle cx="214.1" cy="429.2" r="1.85"/><circle cx="214.1" cy="414.5" r="1.85"/><circle cx="218.4" cy="432.1" r="1.85"/>
<circle cx="227" cy="423.3" r="1.85"/><circle cx="231.3" cy="417.4" r="1.85"/>
</g>
<path class="ln" d="M33.6 549.5L231.3 414.5"/>
<text class="tk" transform="translate(59.4 561.9) scale(0.94 1)" text-anchor="middle">10</text>
<text class="tk" transform="translate(30.3 535.5) scale(0.94 1)" text-anchor="end">10</text>
<text class="tk" transform="translate(102.4 561.9) scale(0.94 1)" text-anchor="middle">20</text>
<text class="tk" transform="translate(30.3 506.1) scale(0.94 1)" text-anchor="end">20</text>
<text class="tk" transform="translate(145.3 561.9) scale(0.94 1)" text-anchor="middle">30</text>
<text class="tk" transform="translate(30.3 476.8) scale(0.94 1)" text-anchor="end">30</text>
<text class="tk" transform="translate(188.3 561.9) scale(0.94 1)" text-anchor="middle">40</text>
<text class="tk" transform="translate(30.3 447.4) scale(0.94 1)" text-anchor="end">40</text>
<text class="tk" transform="translate(231.3 561.9) scale(0.94 1)" text-anchor="middle">50</text>
<text class="tk" transform="translate(30.3 418.1) scale(0.94 1)" text-anchor="end">50</text>
<text class="lb" x="132.5" y="574.3" text-anchor="middle">Observed Streamflow (cfs)</text>
<text class="lb" transform="translate(16 482) rotate(-90)" text-anchor="middle">Predicted Streamflow (cfs)</text>
</g>
<g>
<text class="tb" x="442.2" y="399.2" text-anchor="middle">Station</text>
<text class="tt" x="442.2" y="412" text-anchor="middle">109</text>
<rect class="ax" x="343.5" y="414.5" width="197.5" height="135"/>
<path class="ax" d="M343.5 549.5v-2.3M343.5 414.5v2.3M343.5 549.5h2.3M541 549.5h-2.3M385.5 549.5v-2.3M385.5 414.5v2.3M343.5 520.8h2.3M541 520.8h-2.3M427.5 549.5v-2.3M427.5 414.5v2.3M343.5 492.1h2.3M541 492.1h-2.3M469.6 549.5v-2.3M469.6 414.5v2.3M343.5 463.3h2.3M541 463.3h-2.3M511.6 549.5v-2.3M511.6 414.5v2.3M343.5 434.6h2.3M541 434.6h-2.3"/>
<g class="d">
<circle cx="364.8" cy="532.3" r="1.85"/><circle cx="361.4" cy="534.5" r="1.85"/><circle cx="355.3" cy="537.1" r="1.85"/><circle cx="357.1" cy="537.3" r="1.85"/><circle cx="358.9" cy="544.4" r="1.85"/><circle cx="359.8" cy="540" r="1.85"/>
<circle cx="358" cy="541.8" r="1.85"/><circle cx="346.2" cy="543.6" r="1.85"/><circle cx="351.6" cy="547.3" r="1.85"/><circle cx="351.6" cy="549.1" r="1.85"/><circle cx="348.9" cy="549.5" r="1.85"/><circle cx="347.1" cy="550" r="1.85"/>
<circle cx="345.3" cy="550" r="1.85"/><circle cx="343.5" cy="550" r="1.85"/><circle cx="352.5" cy="545.9" r="1.85"/><circle cx="344.4" cy="548.2" r="1.85"/><circle cx="346.2" cy="546.8" r="1.85"/><circle cx="348" cy="545.9" r="1.85"/>
<circle cx="349.8" cy="544.5" r="1.85"/><circle cx="351.6" cy="543.2" r="1.85"/><circle cx="353.5" cy="541.8" r="1.85"/><circle cx="355.3" cy="540.5" r="1.85"/><circle cx="357.1" cy="539.1" r="1.85"/><circle cx="358.9" cy="537.7" r="1.85"/>
<circle cx="360.7" cy="536.4" r="1.85"/><circle cx="354.4" cy="539.1" r="1.85"/><circle cx="356.2" cy="541.4" r="1.85"/><circle cx="353.5" cy="544.1" r="1.85"/><circle cx="350.7" cy="545.9" r="1.85"/><circle cx="348" cy="547.7" r="1.85"/>
<circle cx="345.7" cy="548.6" r="1.85"/><circle cx="350.3" cy="548.2" r="1.85"/><circle cx="343" cy="548.6" r="1.85"/><circle cx="541.3" cy="548.2" r="1.85"/>
</g>
<path class="ln" d="M343.5 549.5L541 414.5"/>
<text class="tk" transform="translate(343.5 561.9) scale(0.94 1)" text-anchor="middle">0</text>
<text class="tk" transform="translate(340.2 553.1) scale(0.94 1)" text-anchor="end">0</text>
<text class="tk" transform="translate(385.5 561.9) scale(0.94 1)" text-anchor="middle">100</text>
<text class="tk" transform="translate(340.2 524.4) scale(0.94 1)" text-anchor="end">100</text>
<text class="tk" transform="translate(427.5 561.9) scale(0.94 1)" text-anchor="middle">200</text>
<text class="tk" transform="translate(340.2 495.7) scale(0.94 1)" text-anchor="end">200</text>
<text class="tk" transform="translate(469.6 561.9) scale(0.94 1)" text-anchor="middle">300</text>
<text class="tk" transform="translate(340.2 466.9) scale(0.94 1)" text-anchor="end">300</text>
<text class="tk" transform="translate(511.6 561.9) scale(0.94 1)" text-anchor="middle">400</text>
<text class="tk" transform="translate(340.2 438.2) scale(0.94 1)" text-anchor="end">400</text>
<text class="lb" x="442.2" y="574.3" text-anchor="middle">Observed Streamflow (cfs)</text>
<text class="lb" transform="translate(320 482) rotate(-90)" text-anchor="middle">Predicted Streamflow (cfs)</text>
</g>
<g>
<text class="tb" x="134.2" y="592.2" text-anchor="middle">Station</text>
<text class="tt" x="134.2" y="605" text-anchor="middle">126</text>
<rect class="ax" x="35.5" y="607.5" width="197.5" height="135"/>
<path class="ax" d="M35.5 742.5v-2.3M35.5 607.5v2.3M35.5 742.5h2.3M233 742.5h-2.3M88.9 742.5v-2.3M88.9 607.5v2.3M35.5 706h2.3M233 706h-2.3M142.3 742.5v-2.3M142.3 607.5v2.3M35.5 669.5h2.3M233 669.5h-2.3M195.6 742.5v-2.3M195.6 607.5v2.3M35.5 633h2.3M233 633h-2.3"/>
<g class="d">
<circle cx="47.6" cy="732" r="1.85"/><circle cx="49.5" cy="731.4" r="1.85"/><circle cx="45.1" cy="734.4" r="1.85"/><circle cx="37.6" cy="740.5" r="1.85"/><circle cx="49" cy="734.5" r="1.85"/><circle cx="46.8" cy="735.3" r="1.85"/>
<circle cx="42.4" cy="737.2" r="1.85"/><circle cx="43.8" cy="734.7" r="1.85"/><circle cx="53.6" cy="727.6" r="1.85"/><circle cx="35.5" cy="742" r="1.85"/><circle cx="49.1" cy="732.2" r="1.85"/><circle cx="49.2" cy="733.3" r="1.85"/>
<circle cx="43.4" cy="736.5" r="1.85"/><circle cx="40" cy="740.3" r="1.85"/><circle cx="43.6" cy="736.3" r="1.85"/><circle cx="55.7" cy="727.7" r="1.85"/><circle cx="49.8" cy="731.5" r="1.85"/><circle cx="49.3" cy="731.7" r="1.85"/>
<circle cx="35.6" cy="740.4" r="1.85"/><circle cx="57" cy="726.5" r="1.85"/><circle cx="36.8" cy="738.9" r="1.85"/><circle cx="58.2" cy="726.4" r="1.85"/><circle cx="44.6" cy="734.1" r="1.85"/><circle cx="53.3" cy="730.6" r="1.85"/>
<circle cx="51.3" cy="729.5" r="1.85"/><circle cx="45.6" cy="736.8" r="1.85"/><circle cx="51.5" cy="730" r="1.85"/><circle cx="38.6" cy="739.7" r="1.85"/><circle cx="57.8" cy="728.5" r="1.85"/><circle cx="52.9" cy="730.3" r="1.85"/>
<circle cx="43.3" cy="737.1" r="1.85"/><circle cx="57.8" cy="724.9" r="1.85"/><circle cx="55.2" cy="730.3" r="1.85"/><circle cx="41.6" cy="739" r="1.85"/><circle cx="51" cy="732.5" r="1.85"/><circle cx="54.6" cy="726.8" r="1.85"/>
<circle cx="43.9" cy="733.8" r="1.85"/><circle cx="51.3" cy="733.2" r="1.85"/><circle cx="47.9" cy="735.3" r="1.85"/><circle cx="55" cy="728.1" r="1.85"/><circle cx="39.9" cy="737.8" r="1.85"/><circle cx="58.8" cy="727.3" r="1.85"/>
<circle cx="58.8" cy="723.7" r="1.85"/><circle cx="51.9" cy="729.9" r="1.85"/><circle cx="46.8" cy="733.9" r="1.85"/><circle cx="47.6" cy="732" r="1.85"/><circle cx="55.4" cy="728.7" r="1.85"/><circle cx="46.2" cy="733.6" r="1.85"/>
<circle cx="47.6" cy="733.3" r="1.85"/><circle cx="48.8" cy="731.4" r="1.85"/><circle cx="58.9" cy="726" r="1.85"/><circle cx="35.7" cy="741" r="1.85"/><circle cx="38.3" cy="740.6" r="1.85"/><circle cx="51.5" cy="731" r="1.85"/>
<circle cx="58.9" cy="725.7" r="1.85"/><circle cx="57.1" cy="727.8" r="1.85"/><circle cx="50.9" cy="730.2" r="1.85"/><circle cx="41.4" cy="737" r="1.85"/><circle cx="53.5" cy="730.1" r="1.85"/><circle cx="38.8" cy="738.9" r="1.85"/>
<circle cx="39.1" cy="742" r="1.85"/><circle cx="44.9" cy="736.5" r="1.85"/><circle cx="48.5" cy="734.3" r="1.85"/><circle cx="51.4" cy="730.3" r="1.85"/><circle cx="37.3" cy="739.7" r="1.85"/><circle cx="58.3" cy="725.9" r="1.85"/>
<circle cx="51.4" cy="731" r="1.85"/><circle cx="37.3" cy="742.3" r="1.85"/><circle cx="39.6" cy="738.8" r="1.85"/><circle cx="41.2" cy="737.8" r="1.85"/><circle cx="46.4" cy="737.1" r="1.85"/><circle cx="37.9" cy="740.3" r="1.85"/>
<circle cx="59.2" cy="723.8" r="1.85"/><circle cx="39.7" cy="740.1" r="1.85"/><circle cx="36.5" cy="740.9" r="1.85"/><circle cx="48.1" cy="734.3" r="1.85"/><circle cx="40.9" cy="737.7" r="1.85"/><circle cx="42" cy="737" r="1.85"/>
<circle cx="44.1" cy="737.9" r="1.85"/><circle cx="43.9" cy="734.7" r="1.85"/><circle cx="49.5" cy="732.2" r="1.85"/><circle cx="49.7" cy="731.2" r="1.85"/><circle cx="41.7" cy="736.9" r="1.85"/><circle cx="44.5" cy="735.7" r="1.85"/>
<circle cx="38.4" cy="738.1" r="1.85"/><circle cx="39.8" cy="739.3" r="1.85"/><circle cx="41.5" cy="736" r="1.85"/><circle cx="48.9" cy="730.5" r="1.85"/><circle cx="44.5" cy="736.1" r="1.85"/><circle cx="43.7" cy="735.6" r="1.85"/>
<circle cx="35.5" cy="741.2" r="1.85"/><circle cx="48.6" cy="732.3" r="1.85"/><circle cx="52" cy="730.6" r="1.85"/><circle cx="51.3" cy="732.3" r="1.85"/><circle cx="46.2" cy="735" r="1.85"/><circle cx="54.4" cy="731.9" r="1.85"/>
<circle cx="54.9" cy="728.9" r="1.85"/><circle cx="35.7" cy="738.9" r="1.85"/><circle cx="36.4" cy="740" r="1.85"/><circle cx="43.8" cy="735.3" r="1.85"/><circle cx="35.5" cy="742.3" r="1.85"/><circle cx="38.6" cy="739.8" r="1.85"/>
<circle cx="41.3" cy="736.7" r="1.85"/><circle cx="41" cy="736" r="1.85"/><circle cx="51.6" cy="730.6" r="1.85"/><circle cx="37" cy="742.3" r="1.85"/><circle cx="52.6" cy="731.3" r="1.85"/><circle cx="35.5" cy="737.4" r="1.85"/>
<circle cx="51" cy="734" r="1.85"/><circle cx="51.1" cy="730.4" r="1.85"/><circle cx="46.7" cy="732.3" r="1.85"/><circle cx="58.9" cy="726.1" r="1.85"/><circle cx="52.1" cy="731.8" r="1.85"/><circle cx="37.6" cy="739.7" r="1.85"/>
<circle cx="51.7" cy="731.7" r="1.85"/><circle cx="51.4" cy="730.3" r="1.85"/><circle cx="51.2" cy="730.8" r="1.85"/><circle cx="38.4" cy="739.8" r="1.85"/><circle cx="36.3" cy="742" r="1.85"/><circle cx="56.6" cy="727.7" r="1.85"/>
<circle cx="49.2" cy="733.2" r="1.85"/><circle cx="38.6" cy="738.2" r="1.85"/><circle cx="58.6" cy="724.5" r="1.85"/><circle cx="45.3" cy="734" r="1.85"/><circle cx="40.8" cy="738.6" r="1.85"/><circle cx="38.5" cy="741.1" r="1.85"/>
<circle cx="36.1" cy="739.1" r="1.85"/><circle cx="57.6" cy="725.9" r="1.85"/><circle cx="53" cy="729.4" r="1.85"/><circle cx="42" cy="739.3" r="1.85"/><circle cx="47.9" cy="732" r="1.85"/><circle cx="50" cy="732.4" r="1.85"/>
<circle cx="46.4" cy="736" r="1.85"/><circle cx="39.2" cy="739.5" r="1.85"/><circle cx="39.7" cy="737.5" r="1.85"/><circle cx="48.1" cy="732.5" r="1.85"/><circle cx="51" cy="731.1" r="1.85"/><circle cx="50.5" cy="733" r="1.85"/>
<circle cx="51" cy="730" r="1.85"/><circle cx="46.1" cy="734.8" r="1.85"/><circle cx="50.4" cy="735.3" r="1.85"/><circle cx="37.7" cy="740.1" r="1.85"/><circle cx="42.6" cy="735.3" r="1.85"/><circle cx="48.7" cy="732.2" r="1.85"/>
<circle cx="35.5" cy="742.1" r="1.85"/><circle cx="39.8" cy="735.2" r="1.85"/><circle cx="58.9" cy="724.6" r="1.85"/><circle cx="39.1" cy="740.5" r="1.85"/><circle cx="43.9" cy="735.1" r="1.85"/><circle cx="55.5" cy="725.1" r="1.85"/>
<circle cx="61.6" cy="722.5" r="1.85"/><circle cx="47.3" cy="734.3" r="1.85"/><circle cx="53.3" cy="729.7" r="1.85"/><circle cx="76.3" cy="713.9" r="1.85"/><circle cx="76.6" cy="713.1" r="1.85"/><circle cx="36.7" cy="742.1" r="1.85"/>
<circle cx="86.3" cy="707.5" r="1.85"/><circle cx="62.4" cy="722.5" r="1.85"/><circle cx="53.4" cy="729.2" r="1.85"/><circle cx="45.5" cy="733.6" r="1.85"/><circle cx="84.4" cy="708.2" r="1.85"/><circle cx="71.7" cy="717.2" r="1.85"/>
<circle cx="61.4" cy="723" r="1.85"/><circle cx="35.9" cy="740" r="1.85"/><circle cx="85.5" cy="706.6" r="1.85"/><circle cx="52" cy="729.5" r="1.85"/><circle cx="84.3" cy="708" r="1.85"/><circle cx="40.5" cy="735.7" r="1.85"/>
<circle cx="41.4" cy="735.3" r="1.85"/><circle cx="85.6" cy="705.4" r="1.85"/><circle cx="66.1" cy="718.8" r="1.85"/><circle cx="37.2" cy="738.7" r="1.85"/><circle cx="40.6" cy="738.9" r="1.85"/><circle cx="56" cy="726.6" r="1.85"/>
<circle cx="71.2" cy="716.9" r="1.85"/><circle cx="61.2" cy="724.2" r="1.85"/><circle cx="55.2" cy="727.7" r="1.85"/><circle cx="66.3" cy="720.2" r="1.85"/><circle cx="78.9" cy="711.1" r="1.85"/><circle cx="45.2" cy="736.2" r="1.85"/>
<circle cx="62.8" cy="723" r="1.85"/><circle cx="54.1" cy="728.9" r="1.85"/><circle cx="84.2" cy="707.2" r="1.85"/><circle cx="62.2" cy="723.2" r="1.85"/><circle cx="60.7" cy="722.9" r="1.85"/><circle cx="84.1" cy="710.7" r="1.85"/>
<circle cx="78.3" cy="712.6" r="1.85"/><circle cx="58.5" cy="725.4" r="1.85"/><circle cx="53.3" cy="730.9" r="1.85"/><circle cx="56.9" cy="728.7" r="1.85"/><circle cx="69.1" cy="717.6" r="1.85"/><circle cx="62.5" cy="722.5" r="1.85"/>
<circle cx="40.7" cy="737.5" r="1.85"/><circle cx="49.7" cy="731.4" r="1.85"/><circle cx="46.8" cy="735" r="1.85"/><circle cx="77.1" cy="712.4" r="1.85"/><circle cx="46.8" cy="734.1" r="1.85"/><circle cx="71.3" cy="716.6" r="1.85"/>
<circle cx="56.6" cy="726.9" r="1.85"/><circle cx="39.2" cy="738.8" r="1.85"/><circle cx="76.7" cy="712.3" r="1.85"/><circle cx="86.5" cy="707.4" r="1.85"/><circle cx="51.2" cy="730.4" r="1.85"/><circle cx="52.3" cy="730.9" r="1.85"/>
<circle cx="44.9" cy="736.6" r="1.85"/><circle cx="36.6" cy="739.9" r="1.85"/><circle cx="70" cy="719.7" r="1.85"/><circle cx="81.5" cy="709.7" r="1.85"/><circle cx="74.2" cy="714.5" r="1.85"/><circle cx="83.8" cy="708.7" r="1.85"/>
<circle cx="40.7" cy="737.7" r="1.85"/><circle cx="38.1" cy="739.3" r="1.85"/><circle cx="86" cy="706.9" r="1.85"/><circle cx="78.5" cy="710.1" r="1.85"/><circle cx="42.3" cy="738.7" r="1.85"/><circle cx="44.8" cy="735.3" r="1.85"/>
<circle cx="65.7" cy="721.2" r="1.85"/><circle cx="40.5" cy="737.9" r="1.85"/><circle cx="46.6" cy="732.2" r="1.85"/><circle cx="73" cy="716.6" r="1.85"/><circle cx="74.7" cy="715.7" r="1.85"/><circle cx="57.6" cy="725.7" r="1.85"/>
<circle cx="42.4" cy="737.2" r="1.85"/><circle cx="81" cy="711.8" r="1.85"/><circle cx="68.2" cy="720.4" r="1.85"/><circle cx="62.1" cy="723.4" r="1.85"/><circle cx="46.3" cy="733.6" r="1.85"/><circle cx="64.7" cy="722.5" r="1.85"/>
<circle cx="85" cy="707.3" r="1.85"/><circle cx="73.4" cy="714.9" r="1.85"/><circle cx="58.6" cy="726.3" r="1.85"/><circle cx="43" cy="734.8" r="1.85"/><circle cx="45.9" cy="733.8" r="1.85"/><circle cx="54.7" cy="729.2" r="1.85"/>
<circle cx="85.2" cy="707" r="1.85"/><circle cx="39.2" cy="740" r="1.85"/><circle cx="64.4" cy="721.7" r="1.85"/><circle cx="64.7" cy="718.8" r="1.85"/><circle cx="53.3" cy="728.9" r="1.85"/><circle cx="40" cy="738.8" r="1.85"/>
<circle cx="61.8" cy="722.4" r="1.85"/><circle cx="45.8" cy="733.1" r="1.85"/><circle cx="36.9" cy="738.8" r="1.85"/><circle cx="75.6" cy="714.3" r="1.85"/><circle cx="54" cy="729.2" r="1.85"/><circle cx="38.8" cy="739.5" r="1.85"/>
<circle cx="75.4" cy="714.2" r="1.85"/><circle cx="55.3" cy="729.1" r="1.85"/><circle cx="72.9" cy="716.5" r="1.85"/><circle cx="56.1" cy="726.5" r="1.85"/><circle cx="74.3" cy="715.1" r="1.85"/><circle cx="56.9" cy="726" r="1.85"/>
<circle cx="61.7" cy="723.5" r="1.85"/><circle cx="54.3" cy="729.3" r="1.85"/><circle cx="65.2" cy="721.8" r="1.85"/><circle cx="51.6" cy="731.7" r="1.85"/><circle cx="36.8" cy="742.3" r="1.85"/><circle cx="81.1" cy="711.5" r="1.85"/>
<circle cx="67" cy="719.8" r="1.85"/><circle cx="65.2" cy="722" r="1.85"/><circle cx="58.6" cy="726.3" r="1.85"/><circle cx="42.7" cy="736.4" r="1.85"/><circle cx="67.4" cy="721.1" r="1.85"/><circle cx="58.1" cy="725.6" r="1.85"/>
<circle cx="81" cy="711.3" r="1.85"/><circle cx="64.3" cy="721.9" r="1.85"/><circle cx="60.9" cy="724.7" r="1.85"/><circle cx="55.9" cy="727.7" r="1.85"/><circle cx="62.3" cy="721.7" r="1.85"/><circle cx="36.9" cy="739" r="1.85"/>
<circle cx="44.1" cy="735.8" r="1.85"/><circle cx="69.3" cy="718.5" r="1.85"/><circle cx="85.4" cy="707.1" r="1.85"/><circle cx="54.1" cy="728.7" r="1.85"/><circle cx="66.4" cy="721.3" r="1.85"/><circle cx="82.3" cy="710.7" r="1.85"/>
<circle cx="66.8" cy="719.8" r="1.85"/><circle cx="58.5" cy="725.7" r="1.85"/><circle cx="67.9" cy="719.6" r="1.85"/><circle cx="72.4" cy="716.8" r="1.85"/><circle cx="74.2" cy="714" r="1.85"/><circle cx="63.7" cy="720.7" r="1.85"/>
<circle cx="85.3" cy="709.1" r="1.85"/><circle cx="36.8" cy="741.2" r="1.85"/><circle cx="71.5" cy="717.5" r="1.85"/><circle cx="40" cy="737.8" r="1.85"/><circle cx="38.8" cy="738.5" r="1.85"/><circle cx="56.5" cy="725.8" r="1.85"/>
<circle cx="49.3" cy="731.8" r="1.85"/><circle cx="46.2" cy="734.7" r="1.85"/><circle cx="62.1" cy="722.7" r="1.85"/><circle cx="70.3" cy="718.6" r="1.85"/><circle cx="83.6" cy="707" r="1.85"/><circle cx="54.1" cy="727.5" r="1.85"/>
<circle cx="72" cy="714.6" r="1.85"/><circle cx="59.9" cy="722.5" r="1.85"/><circle cx="36.1" cy="742.1" r="1.85"/><circle cx="86.2" cy="706.7" r="1.85"/><circle cx="38.8" cy="739.2" r="1.85"/><circle cx="78.8" cy="712.3" r="1.85"/>
<circle cx="48.9" cy="731.5" r="1.85"/><circle cx="60.3" cy="725.1" r="1.85"/><circle cx="43.5" cy="736.7" r="1.85"/><circle cx="56.8" cy="726.4" r="1.85"/><circle cx="46.2" cy="734.1" r="1.85"/><circle cx="35.8" cy="741.6" r="1.85"/>
<circle cx="46.3" cy="735.3" r="1.85"/><circle cx="48.7" cy="732" r="1.85"/><circle cx="58.5" cy="725.4" r="1.85"/><circle cx="76.8" cy="713.6" r="1.85"/><circle cx="42.1" cy="736.7" r="1.85"/><circle cx="84.4" cy="707.6" r="1.85"/>
<circle cx="50.1" cy="730.5" r="1.85"/><circle cx="79.3" cy="710.6" r="1.85"/><circle cx="48.7" cy="733.3" r="1.85"/><circle cx="62.2" cy="723.2" r="1.85"/><circle cx="85.1" cy="708.5" r="1.85"/><circle cx="56.9" cy="727.1" r="1.85"/>
<circle cx="44" cy="735.4" r="1.85"/><circle cx="44.8" cy="735.3" r="1.85"/><circle cx="99.8" cy="701.4" r="1.85"/><circle cx="115.3" cy="683.8" r="1.85"/><circle cx="95.1" cy="699" r="1.85"/><circle cx="101.9" cy="693.9" r="1.85"/>
<circle cx="103.4" cy="696.1" r="1.85"/><circle cx="111.1" cy="688.3" r="1.85"/><circle cx="99.1" cy="696.7" r="1.85"/><circle cx="97.5" cy="698.9" r="1.85"/><circle cx="86.9" cy="705.7" r="1.85"/><circle cx="117.4" cy="687.5" r="1.85"/>
<circle cx="104.7" cy="693.3" r="1.85"/><circle cx="114.5" cy="687.6" r="1.85"/><circle cx="95.2" cy="700.2" r="1.85"/><circle cx="93.8" cy="702.5" r="1.85"/><circle cx="95.3" cy="699.6" r="1.85"/><circle cx="114.6" cy="688.2" r="1.85"/>
<circle cx="113.4" cy="686.1" r="1.85"/><circle cx="110.5" cy="692" r="1.85"/><circle cx="129.5" cy="675.2" r="1.85"/><circle cx="116" cy="687.2" r="1.85"/><circle cx="133.6" cy="676" r="1.85"/><circle cx="119.2" cy="683.2" r="1.85"/>
<circle cx="126" cy="680" r="1.85"/><circle cx="119.6" cy="683.7" r="1.85"/><circle cx="130.8" cy="676.2" r="1.85"/><circle cx="121.5" cy="683.8" r="1.85"/><circle cx="131.6" cy="676" r="1.85"/><circle cx="129" cy="678.7" r="1.85"/>
<circle cx="117.4" cy="686" r="1.85"/><circle cx="120.3" cy="682.9" r="1.85"/><circle cx="122.8" cy="681.3" r="1.85"/><circle cx="130.9" cy="676.8" r="1.85"/><circle cx="119" cy="684.9" r="1.85"/><circle cx="114.5" cy="686.3" r="1.85"/>
<circle cx="129.8" cy="675.7" r="1.85"/><circle cx="123.9" cy="680" r="1.85"/><circle cx="116.8" cy="687.3" r="1.85"/><circle cx="129.7" cy="674.2" r="1.85"/><circle cx="119.4" cy="681.7" r="1.85"/><circle cx="125.7" cy="681.5" r="1.85"/>
<circle cx="125.1" cy="678.5" r="1.85"/><circle cx="124.9" cy="681.3" r="1.85"/><circle cx="126.2" cy="677.3" r="1.85"/><circle cx="117.6" cy="682.7" r="1.85"/><circle cx="129.2" cy="674.3" r="1.85"/><circle cx="121.1" cy="683.1" r="1.85"/>
<circle cx="130.5" cy="676.8" r="1.85"/><circle cx="127.9" cy="679.9" r="1.85"/><circle cx="56.7" cy="737.2" r="1.85"/><circle cx="75.8" cy="720.4" r="1.85"/><circle cx="74.9" cy="718.5" r="1.85"/><circle cx="91.1" cy="711.4" r="1.85"/>
<circle cx="91.1" cy="715.6" r="1.85"/><circle cx="96.8" cy="713.3" r="1.85"/><circle cx="107.3" cy="711.4" r="1.85"/><circle cx="117.8" cy="704.1" r="1.85"/><circle cx="120.7" cy="700.3" r="1.85"/><circle cx="112.5" cy="696.5" r="1.85"/>
<circle cx="102.2" cy="698.4" r="1.85"/><circle cx="134" cy="693.3" r="1.85"/><circle cx="124.5" cy="688.9" r="1.85"/><circle cx="123.5" cy="689.8" r="1.85"/><circle cx="134" cy="682.2" r="1.85"/><circle cx="112.5" cy="674.9" r="1.85"/>
<circle cx="110.2" cy="683.5" r="1.85"/><circle cx="108.3" cy="687.3" r="1.85"/><circle cx="99.7" cy="689.8" r="1.85"/><circle cx="102.5" cy="691.7" r="1.85"/><circle cx="97.8" cy="695.5" r="1.85"/><circle cx="95.9" cy="696.5" r="1.85"/>
<circle cx="87.3" cy="701.3" r="1.85"/><circle cx="91.1" cy="699.4" r="1.85"/><circle cx="89.2" cy="703.2" r="1.85"/><circle cx="80.6" cy="704.5" r="1.85"/><circle cx="82.5" cy="706" r="1.85"/><circle cx="76.8" cy="710.2" r="1.85"/>
<circle cx="74.9" cy="711.8" r="1.85"/><circle cx="129.3" cy="668.8" r="1.85"/><circle cx="131.2" cy="667.9" r="1.85"/><circle cx="115.9" cy="684.1" r="1.85"/><circle cx="117.8" cy="682.2" r="1.85"/><circle cx="120.7" cy="678.4" r="1.85"/>
<circle cx="123.5" cy="678.4" r="1.85"/><circle cx="125.5" cy="677.4" r="1.85"/><circle cx="127.4" cy="676.5" r="1.85"/><circle cx="121.6" cy="681.2" r="1.85"/><circle cx="125.5" cy="680.3" r="1.85"/><circle cx="129.3" cy="674.5" r="1.85"/>
<circle cx="214.4" cy="607.6" r="1.85"/><circle cx="211.6" cy="613.4" r="1.85"/><circle cx="233" cy="622.4" r="1.85"/><circle cx="225" cy="626" r="1.85"/><circle cx="190.4" cy="620.4" r="1.85"/><circle cx="193" cy="622.4" r="1.85"/>
<circle cx="190.4" cy="629.6" r="1.85"/><circle cx="185" cy="631.4" r="1.85"/><circle cx="198.4" cy="631.4" r="1.85"/><circle cx="190.4" cy="637" r="1.85"/><circle cx="198.4" cy="642.4" r="1.85"/><circle cx="201" cy="646" r="1.85"/>
<circle cx="206.4" cy="640.6" r="1.85"/><circle cx="211.6" cy="640.6" r="1.85"/><circle cx="177" cy="635" r="1.85"/><circle cx="174.4" cy="637" r="1.85"/><circle cx="177.4" cy="637" r="1.85"/><circle cx="166.4" cy="637" r="1.85"/>
<circle cx="169" cy="640.6" r="1.85"/><circle cx="163.4" cy="646" r="1.85"/><circle cx="158" cy="647.6" r="1.85"/><circle cx="185" cy="644" r="1.85"/><circle cx="183" cy="646" r="1.85"/><circle cx="180" cy="647.6" r="1.85"/>
<circle cx="185" cy="648" r="1.85"/><circle cx="190.4" cy="649.4" r="1.85"/><circle cx="174.4" cy="648" r="1.85"/><circle cx="174.4" cy="651.4" r="1.85"/><circle cx="171.6" cy="658.6" r="1.85"/><circle cx="174.4" cy="658.6" r="1.85"/>
<circle cx="177" cy="664" r="1.85"/><circle cx="145" cy="653" r="1.85"/><circle cx="155.6" cy="651.4" r="1.85"/><circle cx="153" cy="655" r="1.85"/><circle cx="150" cy="658.6" r="1.85"/><circle cx="147.6" cy="662.4" r="1.85"/>
<circle cx="145" cy="664" r="1.85"/><circle cx="142.4" cy="660" r="1.85"/><circle cx="158" cy="658.6" r="1.85"/><circle cx="158" cy="660" r="1.85"/><circle cx="155.6" cy="666" r="1.85"/><circle cx="155.6" cy="671.4" r="1.85"/>
<circle cx="139.6" cy="666" r="1.85"/><circle cx="139.6" cy="667.6" r="1.85"/><circle cx="147.6" cy="675" r="1.85"/><circle cx="150" cy="678.6" r="1.85"/><circle cx="169" cy="684" r="1.85"/><circle cx="131.6" cy="668" r="1.85"/>
<circle cx="131.6" cy="671" r="1.85"/><circle cx="134" cy="671.4" r="1.85"/><circle cx="131.6" cy="679" r="1.85"/><circle cx="134" cy="682" r="1.85"/><circle cx="139.6" cy="685" r="1.85"/>
</g>
<path class="ln" d="M35.5 742.5L233 607.5"/>
<text class="tk" transform="translate(35.5 754.9) scale(0.94 1)" text-anchor="middle">0</text>
<text class="tk" transform="translate(32.2 746.1) scale(0.94 1)" text-anchor="end">0</text>
<text class="tk" transform="translate(88.9 754.9) scale(0.94 1)" text-anchor="middle">20</text>
<text class="tk" transform="translate(32.2 709.6) scale(0.94 1)" text-anchor="end">20</text>
<text class="tk" transform="translate(142.3 754.9) scale(0.94 1)" text-anchor="middle">40</text>
<text class="tk" transform="translate(32.2 673.1) scale(0.94 1)" text-anchor="end">40</text>
<text class="tk" transform="translate(195.6 754.9) scale(0.94 1)" text-anchor="middle">60</text>
<text class="tk" transform="translate(32.2 636.6) scale(0.94 1)" text-anchor="end">60</text>
<text class="lb" x="134.2" y="767.3" text-anchor="middle">Observed Streamflow (cfs)</text>
<text class="lb" transform="translate(17 675) rotate(-90)" text-anchor="middle">Predicted Streamflow (cfs)</text>
</g>
<g>
<text class="tb" x="442.2" y="592.2" text-anchor="middle">Station</text>
<text class="tt" x="442.2" y="605" text-anchor="middle">140</text>
<rect class="ax" x="343.5" y="607.5" width="197.5" height="135"/>
<path class="ax" d="M343.5 742.5v-2.3M343.5 607.5v2.3M343.5 742.5h2.3M541 742.5h-2.3M394.8 742.5v-2.3M394.8 607.5v2.3M343.5 707.4h2.3M541 707.4h-2.3M446.1 742.5v-2.3M446.1 607.5v2.3M343.5 672.4h2.3M541 672.4h-2.3M497.4 742.5v-2.3M497.4 607.5v2.3M343.5 637.3h2.3M541 637.3h-2.3"/>
<g class="d">
<circle cx="412.3" cy="680.3" r="1.85"/><circle cx="398.9" cy="683.1" r="1.85"/><circle cx="400.1" cy="690" r="1.85"/><circle cx="398.9" cy="696.2" r="1.85"/><circle cx="419.9" cy="695.7" r="1.85"/><circle cx="415.3" cy="702.7" r="1.85"/>
<circle cx="411.7" cy="704.7" r="1.85"/><circle cx="396.5" cy="709.3" r="1.85"/><circle cx="410.4" cy="718" r="1.85"/><circle cx="412" cy="724" r="1.85"/><circle cx="414.5" cy="731.9" r="1.85"/><circle cx="401.4" cy="721.1" r="1.85"/>
<circle cx="374.7" cy="695.7" r="1.85"/><circle cx="382.9" cy="694.2" r="1.85"/><circle cx="386.6" cy="693.4" r="1.85"/><circle cx="386.6" cy="697" r="1.85"/><circle cx="377.6" cy="703.9" r="1.85"/><circle cx="376" cy="706" r="1.85"/>
<circle cx="377.3" cy="708.5" r="1.85"/><circle cx="385.5" cy="704.4" r="1.85"/><circle cx="371.4" cy="708.5" r="1.85"/><circle cx="372.7" cy="710.9" r="1.85"/><circle cx="374.4" cy="712.6" r="1.85"/><circle cx="371.1" cy="713.4" r="1.85"/>
<circle cx="376.8" cy="713.4" r="1.85"/><circle cx="375.2" cy="715" r="1.85"/><circle cx="382.6" cy="713.4" r="1.85"/><circle cx="385" cy="716.3" r="1.85"/><circle cx="389.9" cy="716.6" r="1.85"/><circle cx="382.6" cy="718.3" r="1.85"/>
<circle cx="378.5" cy="719.9" r="1.85"/><circle cx="381.7" cy="723.2" r="1.85"/><circle cx="393.2" cy="722.4" r="1.85"/><circle cx="389.9" cy="724.8" r="1.85"/><circle cx="387.5" cy="726.5" r="1.85"/><circle cx="393.2" cy="728.6" r="1.85"/>
<circle cx="391.6" cy="731.4" r="1.85"/><circle cx="381.2" cy="727.6" r="1.85"/><circle cx="374.4" cy="725.6" r="1.85"/><circle cx="375.2" cy="728.1" r="1.85"/><circle cx="372.7" cy="729.7" r="1.85"/><circle cx="375.2" cy="730.6" r="1.85"/>
<circle cx="372.7" cy="733" r="1.85"/><circle cx="376" cy="739.6" r="1.85"/><circle cx="379.3" cy="740" r="1.85"/><circle cx="366.2" cy="738.7" r="1.85"/><circle cx="359.6" cy="739.6" r="1.85"/><circle cx="369.5" cy="714.2" r="1.85"/>
<circle cx="367" cy="717.5" r="1.85"/><circle cx="364.5" cy="718.3" r="1.85"/><circle cx="365.4" cy="720.7" r="1.85"/><circle cx="368.6" cy="719.1" r="1.85"/><circle cx="370.3" cy="718.3" r="1.85"/><circle cx="371.9" cy="716.6" r="1.85"/>
<circle cx="373.6" cy="719.1" r="1.85"/><circle cx="362.9" cy="722.4" r="1.85"/><circle cx="361.3" cy="724" r="1.85"/><circle cx="359.6" cy="726.5" r="1.85"/><circle cx="357.2" cy="727.3" r="1.85"/><circle cx="355.5" cy="728.1" r="1.85"/>
<circle cx="353.9" cy="728.9" r="1.85"/><circle cx="352.3" cy="729.7" r="1.85"/><circle cx="367.8" cy="725.6" r="1.85"/><circle cx="369.5" cy="728.1" r="1.85"/><circle cx="366.2" cy="728.9" r="1.85"/><circle cx="364.5" cy="731.4" r="1.85"/>
<circle cx="362.9" cy="733" r="1.85"/><circle cx="366.2" cy="733.8" r="1.85"/><circle cx="361.3" cy="734.6" r="1.85"/><circle cx="358.8" cy="735.5" r="1.85"/><circle cx="363.7" cy="736.3" r="1.85"/><circle cx="356.4" cy="737.1" r="1.85"/>
<circle cx="364.9" cy="729.7" r="1.85"/><circle cx="356.7" cy="734.1" r="1.85"/><circle cx="344.2" cy="741.4" r="1.85"/><circle cx="347" cy="739.3" r="1.85"/><circle cx="362.6" cy="730.7" r="1.85"/><circle cx="372.9" cy="717.8" r="1.85"/>
<circle cx="369.4" cy="724.5" r="1.85"/><circle cx="367.4" cy="728.2" r="1.85"/><circle cx="362.2" cy="730.2" r="1.85"/><circle cx="357.4" cy="731.9" r="1.85"/><circle cx="352.5" cy="732.4" r="1.85"/><circle cx="360.9" cy="730.3" r="1.85"/>
<circle cx="345.9" cy="741.5" r="1.85"/><circle cx="364.1" cy="723.8" r="1.85"/><circle cx="358.7" cy="727.6" r="1.85"/><circle cx="366.2" cy="717.9" r="1.85"/><circle cx="354.9" cy="734.5" r="1.85"/><circle cx="345.9" cy="741.2" r="1.85"/>
<circle cx="356.1" cy="736" r="1.85"/><circle cx="345.9" cy="741" r="1.85"/><circle cx="367.3" cy="720.2" r="1.85"/><circle cx="368.5" cy="730.5" r="1.85"/><circle cx="368" cy="729.8" r="1.85"/><circle cx="361.7" cy="728.6" r="1.85"/>
<circle cx="359.1" cy="733.9" r="1.85"/><circle cx="360.5" cy="728.8" r="1.85"/><circle cx="364.8" cy="723.3" r="1.85"/><circle cx="351" cy="732.7" r="1.85"/><circle cx="348.9" cy="738.7" r="1.85"/><circle cx="358.6" cy="734.3" r="1.85"/>
<circle cx="351.8" cy="736.8" r="1.85"/><circle cx="368.8" cy="722.3" r="1.85"/><circle cx="366.3" cy="723.5" r="1.85"/><circle cx="355.1" cy="735.3" r="1.85"/><circle cx="346" cy="741" r="1.85"/><circle cx="347" cy="739.4" r="1.85"/>
<circle cx="357.5" cy="731.1" r="1.85"/><circle cx="345" cy="740.1" r="1.85"/><circle cx="343.5" cy="740.8" r="1.85"/><circle cx="348.1" cy="737" r="1.85"/><circle cx="351.4" cy="735.3" r="1.85"/><circle cx="351.4" cy="738.7" r="1.85"/>
<circle cx="349" cy="735.7" r="1.85"/><circle cx="364.1" cy="731.3" r="1.85"/><circle cx="371" cy="724.9" r="1.85"/><circle cx="345.7" cy="739.2" r="1.85"/><circle cx="357.2" cy="729.9" r="1.85"/><circle cx="361.2" cy="738.9" r="1.85"/>
<circle cx="348.7" cy="734.4" r="1.85"/><circle cx="370" cy="718" r="1.85"/><circle cx="361.5" cy="727.3" r="1.85"/><circle cx="369.5" cy="717" r="1.85"/><circle cx="344.9" cy="740.4" r="1.85"/><circle cx="348.7" cy="738.8" r="1.85"/>
<circle cx="352" cy="733.8" r="1.85"/><circle cx="361.8" cy="729.1" r="1.85"/><circle cx="359.1" cy="731.5" r="1.85"/><circle cx="368.6" cy="728.9" r="1.85"/><circle cx="354.3" cy="734.1" r="1.85"/><circle cx="370.7" cy="710.3" r="1.85"/>
<circle cx="352.8" cy="736.7" r="1.85"/><circle cx="365.8" cy="726.1" r="1.85"/><circle cx="351.8" cy="734.8" r="1.85"/><circle cx="370.9" cy="727.7" r="1.85"/><circle cx="356.7" cy="733" r="1.85"/><circle cx="368.7" cy="721.4" r="1.85"/>
<circle cx="344.1" cy="741.9" r="1.85"/><circle cx="344.7" cy="741.4" r="1.85"/><circle cx="346.3" cy="737.9" r="1.85"/><circle cx="347" cy="741.5" r="1.85"/><circle cx="367" cy="729.6" r="1.85"/><circle cx="343.8" cy="740.5" r="1.85"/>
<circle cx="352.3" cy="736.7" r="1.85"/><circle cx="361.3" cy="724.6" r="1.85"/><circle cx="368" cy="719.1" r="1.85"/><circle cx="359.9" cy="729.6" r="1.85"/><circle cx="372.4" cy="721.1" r="1.85"/><circle cx="369" cy="723.7" r="1.85"/>
<circle cx="351.9" cy="734.6" r="1.85"/><circle cx="367.5" cy="721.5" r="1.85"/><circle cx="352.2" cy="734.3" r="1.85"/><circle cx="356.7" cy="730.7" r="1.85"/><circle cx="354.6" cy="734.3" r="1.85"/><circle cx="346.2" cy="738.7" r="1.85"/>
<circle cx="360.9" cy="735.1" r="1.85"/><circle cx="369.1" cy="727.7" r="1.85"/><circle cx="351" cy="734.6" r="1.85"/><circle cx="343.6" cy="741.8" r="1.85"/><circle cx="365.3" cy="720.3" r="1.85"/><circle cx="359.3" cy="727.9" r="1.85"/>
<circle cx="348.7" cy="738" r="1.85"/><circle cx="354.6" cy="736.3" r="1.85"/><circle cx="346.7" cy="741.4" r="1.85"/><circle cx="346.9" cy="740.9" r="1.85"/><circle cx="346.9" cy="741.7" r="1.85"/><circle cx="363.8" cy="730.2" r="1.85"/>
<circle cx="351.4" cy="734.6" r="1.85"/><circle cx="368.3" cy="725.9" r="1.85"/><circle cx="367.9" cy="725.7" r="1.85"/><circle cx="367.8" cy="724.1" r="1.85"/><circle cx="360.1" cy="732.6" r="1.85"/><circle cx="357" cy="735" r="1.85"/>
<circle cx="351.8" cy="735.7" r="1.85"/><circle cx="365.2" cy="722.5" r="1.85"/><circle cx="373.3" cy="721.4" r="1.85"/><circle cx="368.5" cy="728" r="1.85"/><circle cx="344" cy="741.1" r="1.85"/><circle cx="356.7" cy="730.9" r="1.85"/>
<circle cx="349.8" cy="735.9" r="1.85"/><circle cx="353.8" cy="734" r="1.85"/><circle cx="370.5" cy="728.7" r="1.85"/><circle cx="358.4" cy="728.7" r="1.85"/><circle cx="353.9" cy="733.5" r="1.85"/><circle cx="369.7" cy="718.2" r="1.85"/>
<circle cx="356.9" cy="736.2" r="1.85"/><circle cx="361.4" cy="729.5" r="1.85"/><circle cx="344.8" cy="739.6" r="1.85"/><circle cx="344" cy="741.7" r="1.85"/><circle cx="345.3" cy="741.5" r="1.85"/><circle cx="347.2" cy="738.9" r="1.85"/>
<circle cx="361.5" cy="729" r="1.85"/><circle cx="368.7" cy="719.6" r="1.85"/><circle cx="363.7" cy="727.1" r="1.85"/><circle cx="359" cy="729.2" r="1.85"/><circle cx="364.3" cy="728" r="1.85"/><circle cx="430.3" cy="607.9" r="1.85"/>
<circle cx="411.9" cy="628.5" r="1.85"/><circle cx="434.3" cy="652.7" r="1.85"/><circle cx="414.5" cy="660.1" r="1.85"/><circle cx="412.4" cy="679.9" r="1.85"/><circle cx="419.8" cy="695.7" r="1.85"/><circle cx="415.3" cy="702.8" r="1.85"/>
<circle cx="411.9" cy="704.4" r="1.85"/><circle cx="410" cy="717.8" r="1.85"/><circle cx="411.9" cy="723.9" r="1.85"/><circle cx="414.5" cy="731.8" r="1.85"/><circle cx="401.3" cy="721.3" r="1.85"/><circle cx="463.8" cy="713.9" r="1.85"/>
<circle cx="474.6" cy="721.8" r="1.85"/><circle cx="532.6" cy="719.2" r="1.85"/><circle cx="510.2" cy="739.2" r="1.85"/><circle cx="541" cy="612.7" r="1.85"/>
</g>
<path class="ln" d="M343.5 742.5L541 607.5"/>
<text class="tk" transform="translate(343.5 754.9) scale(0.94 1)" text-anchor="middle">0</text>
<text class="tk" transform="translate(340.2 746.1) scale(0.94 1)" text-anchor="end">0</text>
<text class="tk" transform="translate(394.8 754.9) scale(0.94 1)" text-anchor="middle">100</text>
<text class="tk" transform="translate(340.2 711) scale(0.94 1)" text-anchor="end">100</text>
<text class="tk" transform="translate(446.1 754.9) scale(0.94 1)" text-anchor="middle">200</text>
<text class="tk" transform="translate(340.2 676) scale(0.94 1)" text-anchor="end">200</text>
<text class="tk" transform="translate(497.4 754.9) scale(0.94 1)" text-anchor="middle">300</text>
<text class="tk" transform="translate(340.2 640.9) scale(0.94 1)" text-anchor="end">300</text>
<text class="lb" x="442.2" y="767.3" text-anchor="middle">Observed Streamflow (cfs)</text>
<text class="lb" transform="translate(320 675) rotate(-90)" text-anchor="middle">Predicted Streamflow (cfs)</text>
</g>
</svg>
</body></html>
